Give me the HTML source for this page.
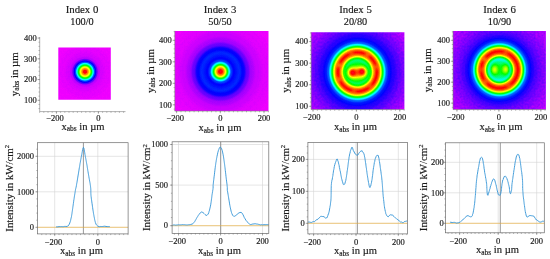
<!DOCTYPE html>
<html><head><meta charset="utf-8"><title>Beam profiles</title>
<style>html,body{margin:0;padding:0;background:#fff}svg{display:block}text{font-family:"Liberation Serif", "DejaVu Serif", serif;fill:#1a1a1a;stroke:#1a1a1a;stroke-width:0.16px}</style>
</head><body>
<svg width="550" height="259" viewBox="0 0 550 259">
<defs>
<filter id="cmA" x="0" y="0" width="100%" height="100%" color-interpolation-filters="sRGB" filterUnits="objectBoundingBox">
<feTurbulence type="fractalNoise" baseFrequency="0.5" numOctaves="2" seed="7" result="n0"/>
<feColorMatrix in="n0" type="matrix" values="1 0 0 0 0 1 0 0 0 0 1 0 0 0 0 0 0 0 0 1" result="n"/>
<feComponentTransfer in="SourceGraphic" result="w"><feFuncR type="table" tableValues="1.000 0.821 0.643 0.464 0.286 0.107 0.000 0.000 0.000 0.000 0.000 0.000 0.000 0.000 0.000 0.000 0.000 0.000 0.000 0.000 0.000 0.000 0.000 0.000 0.000 0.000 0.000 0.000 0.000 0.000 0.000 0.000 0.000 0.000 0.000 0.000 0.000 0.000 0.000 0.000 0.000"/><feFuncG type="table" tableValues="1.000 0.821 0.643 0.464 0.286 0.107 0.000 0.000 0.000 0.000 0.000 0.000 0.000 0.000 0.000 0.000 0.000 0.000 0.000 0.000 0.000 0.000 0.000 0.000 0.000 0.000 0.000 0.000 0.000 0.000 0.000 0.000 0.000 0.000 0.000 0.000 0.000 0.000 0.000 0.000 0.000"/><feFuncB type="table" tableValues="1.000 0.821 0.643 0.464 0.286 0.107 0.000 0.000 0.000 0.000 0.000 0.000 0.000 0.000 0.000 0.000 0.000 0.000 0.000 0.000 0.000 0.000 0.000 0.000 0.000 0.000 0.000 0.000 0.000 0.000 0.000 0.000 0.000 0.000 0.000 0.000 0.000 0.000 0.000 0.000 0.000"/></feComponentTransfer>
<feComposite in="w" in2="n" operator="arithmetic" k1="0.02" k2="0" k3="0" k4="0" result="a"/>
<feComposite in="SourceGraphic" in2="a" operator="arithmetic" k1="0" k2="1" k3="1" k4="0" result="v"/>
<feComponentTransfer in="v">
<feFuncR type="table" tableValues="1.000 1.000 1.000 1.000 1.000 1.000 1.000 1.000 1.000 1.000 1.000 1.000 0.994 0.973 0.952 0.930 0.909 0.888 0.866 0.845 0.824 0.802 0.781 0.760 0.738 0.717 0.696 0.675 0.653 0.632 0.611 0.589 0.568 0.547 0.525 0.504 0.483 0.461 0.440 0.419 0.397 0.376 0.355 0.334 0.312 0.291 0.270 0.248 0.227 0.206 0.184 0.163 0.142 0.120 0.099 0.078 0.056 0.035 0.014 0.000 0.000 0.000 0.000 0.000 0.000 0.000 0.000 0.000 0.000 0.000 0.000 0.000 0.000 0.000 0.000 0.000 0.000 0.000 0.000 0.000 0.000 0.000 0.000 0.000 0.000 0.000 0.000 0.000 0.000 0.000 0.000 0.000 0.000 0.000 0.000 0.000 0.000 0.000 0.000 0.000 0.000 0.000 0.000 0.000 0.000 0.000 0.000 0.000 0.000 0.000 0.000 0.000 0.000 0.000 0.000 0.000 0.000 0.000 0.000 0.000 0.000 0.000 0.000 0.000 0.000 0.000 0.000 0.000 0.000 0.000 0.000 0.000 0.000 0.000 0.000 0.000 0.000 0.000 0.000 0.000 0.000 0.000 0.000 0.000 0.000 0.000 0.000 0.000 0.000 0.000 0.000 0.000 0.000 0.000 0.021 0.042 0.064 0.085 0.106 0.127 0.148 0.170 0.191 0.212 0.233 0.254 0.276 0.297 0.318 0.339 0.360 0.382 0.403 0.424 0.445 0.466 0.488 0.509 0.530 0.551 0.572 0.594 0.615 0.636 0.657 0.678 0.700 0.721 0.742 0.763 0.784 0.806 0.827 0.848 0.869 0.890 0.911 0.933 0.954 0.975 0.996 1.000 1.000 1.000 1.000 1.000 1.000 1.000 1.000 1.000 1.000 1.000 1.000 1.000 1.000 1.000 1.000 1.000 1.000 1.000 1.000 1.000 1.000 1.000 1.000 1.000 1.000 1.000 1.000 1.000 1.000 1.000 1.000 1.000 1.000 1.000 1.000 1.000 1.000 1.000 1.000 1.000 1.000 1.000 1.000 1.000 1.000 1.000 1.000 1.000 1.000 1.000 1.000 1.000 1.000 1.000"/>
<feFuncG type="table" tableValues="0.000 0.000 0.000 0.000 0.000 0.000 0.000 0.000 0.000 0.000 0.000 0.000 0.000 0.000 0.000 0.000 0.000 0.000 0.000 0.000 0.000 0.000 0.000 0.000 0.000 0.000 0.000 0.000 0.000 0.000 0.000 0.000 0.000 0.000 0.000 0.000 0.000 0.000 0.000 0.000 0.000 0.000 0.000 0.000 0.000 0.000 0.000 0.000 0.000 0.000 0.000 0.000 0.000 0.000 0.000 0.000 0.000 0.000 0.000 0.007 0.029 0.050 0.071 0.093 0.114 0.135 0.157 0.178 0.199 0.221 0.242 0.263 0.285 0.306 0.327 0.348 0.370 0.391 0.412 0.434 0.455 0.476 0.498 0.519 0.540 0.562 0.583 0.604 0.626 0.647 0.668 0.689 0.711 0.732 0.753 0.775 0.796 0.817 0.839 0.860 0.881 0.903 0.924 0.945 0.967 0.988 1.000 1.000 1.000 1.000 1.000 1.000 1.000 1.000 1.000 1.000 1.000 1.000 1.000 1.000 1.000 1.000 1.000 1.000 1.000 1.000 1.000 1.000 1.000 1.000 1.000 1.000 1.000 1.000 1.000 1.000 1.000 1.000 1.000 1.000 1.000 1.000 1.000 1.000 1.000 1.000 1.000 1.000 1.000 1.000 1.000 1.000 1.000 1.000 1.000 1.000 1.000 1.000 1.000 1.000 1.000 1.000 1.000 1.000 1.000 1.000 1.000 1.000 1.000 1.000 1.000 1.000 1.000 1.000 1.000 1.000 1.000 1.000 1.000 1.000 1.000 1.000 1.000 1.000 1.000 1.000 1.000 1.000 1.000 1.000 1.000 1.000 1.000 1.000 1.000 1.000 1.000 1.000 1.000 1.000 1.000 0.983 0.961 0.940 0.919 0.898 0.877 0.855 0.834 0.813 0.792 0.771 0.749 0.728 0.707 0.686 0.665 0.643 0.622 0.601 0.580 0.559 0.537 0.516 0.495 0.474 0.453 0.431 0.410 0.389 0.368 0.347 0.325 0.304 0.283 0.262 0.241 0.219 0.198 0.177 0.156 0.135 0.113 0.092 0.071 0.050 0.029 0.007 0.000 0.000 0.000 0.000 0.000 0.000 0.000 0.000"/>
<feFuncB type="table" tableValues="0.750 0.771 0.793 0.814 0.835 0.857 0.878 0.899 0.921 0.942 0.963 0.984 1.000 1.000 1.000 1.000 1.000 1.000 1.000 1.000 1.000 1.000 1.000 1.000 1.000 1.000 1.000 1.000 1.000 1.000 1.000 1.000 1.000 1.000 1.000 1.000 1.000 1.000 1.000 1.000 1.000 1.000 1.000 1.000 1.000 1.000 1.000 1.000 1.000 1.000 1.000 1.000 1.000 1.000 1.000 1.000 1.000 1.000 1.000 1.000 1.000 1.000 1.000 1.000 1.000 1.000 1.000 1.000 1.000 1.000 1.000 1.000 1.000 1.000 1.000 1.000 1.000 1.000 1.000 1.000 1.000 1.000 1.000 1.000 1.000 1.000 1.000 1.000 1.000 1.000 1.000 1.000 1.000 1.000 1.000 1.000 1.000 1.000 1.000 1.000 1.000 1.000 1.000 1.000 1.000 1.000 0.991 0.970 0.949 0.928 0.907 0.886 0.864 0.843 0.822 0.801 0.780 0.759 0.738 0.717 0.696 0.675 0.654 0.633 0.611 0.590 0.569 0.548 0.527 0.506 0.485 0.464 0.443 0.422 0.401 0.380 0.358 0.337 0.316 0.295 0.274 0.253 0.232 0.211 0.190 0.169 0.148 0.127 0.105 0.084 0.063 0.042 0.021 0.000 0.000 0.000 0.000 0.000 0.000 0.000 0.000 0.000 0.000 0.000 0.000 0.000 0.000 0.000 0.000 0.000 0.000 0.000 0.000 0.000 0.000 0.000 0.000 0.000 0.000 0.000 0.000 0.000 0.000 0.000 0.000 0.000 0.000 0.000 0.000 0.000 0.000 0.000 0.000 0.000 0.000 0.000 0.000 0.000 0.000 0.000 0.000 0.000 0.000 0.000 0.000 0.000 0.000 0.000 0.000 0.000 0.000 0.000 0.000 0.000 0.000 0.000 0.000 0.000 0.000 0.000 0.000 0.000 0.000 0.000 0.000 0.000 0.000 0.000 0.000 0.000 0.000 0.000 0.000 0.000 0.000 0.000 0.000 0.000 0.000 0.000 0.000 0.000 0.000 0.000 0.000 0.000 0.000 0.000 0.014 0.035 0.055 0.076 0.097 0.118 0.139 0.160"/>
</feComponentTransfer></filter>
<filter id="cmB" x="0" y="0" width="100%" height="100%" color-interpolation-filters="sRGB" filterUnits="objectBoundingBox">
<feTurbulence type="fractalNoise" baseFrequency="0.5" numOctaves="2" seed="11" result="n0"/>
<feColorMatrix in="n0" type="matrix" values="1 0 0 0 0 1 0 0 0 0 1 0 0 0 0 0 0 0 0 1" result="n"/>
<feComponentTransfer in="SourceGraphic" result="w"><feFuncR type="table" tableValues="1.000 0.896 0.792 0.688 0.583 0.479 0.375 0.271 0.167 0.062 0.000 0.000 0.000 0.000 0.000 0.000 0.000 0.000 0.000 0.000 0.000 0.000 0.000 0.000 0.000 0.000 0.000 0.000 0.000 0.000 0.000 0.000 0.000 0.000 0.000 0.000 0.000 0.000 0.000 0.000 0.000"/><feFuncG type="table" tableValues="1.000 0.896 0.792 0.688 0.583 0.479 0.375 0.271 0.167 0.062 0.000 0.000 0.000 0.000 0.000 0.000 0.000 0.000 0.000 0.000 0.000 0.000 0.000 0.000 0.000 0.000 0.000 0.000 0.000 0.000 0.000 0.000 0.000 0.000 0.000 0.000 0.000 0.000 0.000 0.000 0.000"/><feFuncB type="table" tableValues="1.000 0.896 0.792 0.688 0.583 0.479 0.375 0.271 0.167 0.062 0.000 0.000 0.000 0.000 0.000 0.000 0.000 0.000 0.000 0.000 0.000 0.000 0.000 0.000 0.000 0.000 0.000 0.000 0.000 0.000 0.000 0.000 0.000 0.000 0.000 0.000 0.000 0.000 0.000 0.000 0.000"/></feComponentTransfer>
<feComposite in="w" in2="n" operator="arithmetic" k1="0.1" k2="0" k3="0" k4="0" result="a"/>
<feComposite in="SourceGraphic" in2="a" operator="arithmetic" k1="0" k2="1" k3="1" k4="0" result="v"/>
<feComponentTransfer in="v">
<feFuncR type="table" tableValues="1.000 1.000 1.000 1.000 1.000 1.000 1.000 1.000 1.000 1.000 1.000 1.000 0.994 0.973 0.952 0.930 0.909 0.888 0.866 0.845 0.824 0.802 0.781 0.760 0.738 0.717 0.696 0.675 0.653 0.632 0.611 0.589 0.568 0.547 0.525 0.504 0.483 0.461 0.440 0.419 0.397 0.376 0.355 0.334 0.312 0.291 0.270 0.248 0.227 0.206 0.184 0.163 0.142 0.120 0.099 0.078 0.056 0.035 0.014 0.000 0.000 0.000 0.000 0.000 0.000 0.000 0.000 0.000 0.000 0.000 0.000 0.000 0.000 0.000 0.000 0.000 0.000 0.000 0.000 0.000 0.000 0.000 0.000 0.000 0.000 0.000 0.000 0.000 0.000 0.000 0.000 0.000 0.000 0.000 0.000 0.000 0.000 0.000 0.000 0.000 0.000 0.000 0.000 0.000 0.000 0.000 0.000 0.000 0.000 0.000 0.000 0.000 0.000 0.000 0.000 0.000 0.000 0.000 0.000 0.000 0.000 0.000 0.000 0.000 0.000 0.000 0.000 0.000 0.000 0.000 0.000 0.000 0.000 0.000 0.000 0.000 0.000 0.000 0.000 0.000 0.000 0.000 0.000 0.000 0.000 0.000 0.000 0.000 0.000 0.000 0.000 0.000 0.000 0.000 0.021 0.042 0.064 0.085 0.106 0.127 0.148 0.170 0.191 0.212 0.233 0.254 0.276 0.297 0.318 0.339 0.360 0.382 0.403 0.424 0.445 0.466 0.488 0.509 0.530 0.551 0.572 0.594 0.615 0.636 0.657 0.678 0.700 0.721 0.742 0.763 0.784 0.806 0.827 0.848 0.869 0.890 0.911 0.933 0.954 0.975 0.996 1.000 1.000 1.000 1.000 1.000 1.000 1.000 1.000 1.000 1.000 1.000 1.000 1.000 1.000 1.000 1.000 1.000 1.000 1.000 1.000 1.000 1.000 1.000 1.000 1.000 1.000 1.000 1.000 1.000 1.000 1.000 1.000 1.000 1.000 1.000 1.000 1.000 1.000 1.000 1.000 1.000 1.000 1.000 1.000 1.000 1.000 1.000 1.000 1.000 1.000 1.000 1.000 1.000 1.000 1.000"/>
<feFuncG type="table" tableValues="0.000 0.000 0.000 0.000 0.000 0.000 0.000 0.000 0.000 0.000 0.000 0.000 0.000 0.000 0.000 0.000 0.000 0.000 0.000 0.000 0.000 0.000 0.000 0.000 0.000 0.000 0.000 0.000 0.000 0.000 0.000 0.000 0.000 0.000 0.000 0.000 0.000 0.000 0.000 0.000 0.000 0.000 0.000 0.000 0.000 0.000 0.000 0.000 0.000 0.000 0.000 0.000 0.000 0.000 0.000 0.000 0.000 0.000 0.000 0.007 0.029 0.050 0.071 0.093 0.114 0.135 0.157 0.178 0.199 0.221 0.242 0.263 0.285 0.306 0.327 0.348 0.370 0.391 0.412 0.434 0.455 0.476 0.498 0.519 0.540 0.562 0.583 0.604 0.626 0.647 0.668 0.689 0.711 0.732 0.753 0.775 0.796 0.817 0.839 0.860 0.881 0.903 0.924 0.945 0.967 0.988 1.000 1.000 1.000 1.000 1.000 1.000 1.000 1.000 1.000 1.000 1.000 1.000 1.000 1.000 1.000 1.000 1.000 1.000 1.000 1.000 1.000 1.000 1.000 1.000 1.000 1.000 1.000 1.000 1.000 1.000 1.000 1.000 1.000 1.000 1.000 1.000 1.000 1.000 1.000 1.000 1.000 1.000 1.000 1.000 1.000 1.000 1.000 1.000 1.000 1.000 1.000 1.000 1.000 1.000 1.000 1.000 1.000 1.000 1.000 1.000 1.000 1.000 1.000 1.000 1.000 1.000 1.000 1.000 1.000 1.000 1.000 1.000 1.000 1.000 1.000 1.000 1.000 1.000 1.000 1.000 1.000 1.000 1.000 1.000 1.000 1.000 1.000 1.000 1.000 1.000 1.000 1.000 1.000 1.000 1.000 0.983 0.961 0.940 0.919 0.898 0.877 0.855 0.834 0.813 0.792 0.771 0.749 0.728 0.707 0.686 0.665 0.643 0.622 0.601 0.580 0.559 0.537 0.516 0.495 0.474 0.453 0.431 0.410 0.389 0.368 0.347 0.325 0.304 0.283 0.262 0.241 0.219 0.198 0.177 0.156 0.135 0.113 0.092 0.071 0.050 0.029 0.007 0.000 0.000 0.000 0.000 0.000 0.000 0.000 0.000"/>
<feFuncB type="table" tableValues="0.750 0.771 0.793 0.814 0.835 0.857 0.878 0.899 0.921 0.942 0.963 0.984 1.000 1.000 1.000 1.000 1.000 1.000 1.000 1.000 1.000 1.000 1.000 1.000 1.000 1.000 1.000 1.000 1.000 1.000 1.000 1.000 1.000 1.000 1.000 1.000 1.000 1.000 1.000 1.000 1.000 1.000 1.000 1.000 1.000 1.000 1.000 1.000 1.000 1.000 1.000 1.000 1.000 1.000 1.000 1.000 1.000 1.000 1.000 1.000 1.000 1.000 1.000 1.000 1.000 1.000 1.000 1.000 1.000 1.000 1.000 1.000 1.000 1.000 1.000 1.000 1.000 1.000 1.000 1.000 1.000 1.000 1.000 1.000 1.000 1.000 1.000 1.000 1.000 1.000 1.000 1.000 1.000 1.000 1.000 1.000 1.000 1.000 1.000 1.000 1.000 1.000 1.000 1.000 1.000 1.000 0.991 0.970 0.949 0.928 0.907 0.886 0.864 0.843 0.822 0.801 0.780 0.759 0.738 0.717 0.696 0.675 0.654 0.633 0.611 0.590 0.569 0.548 0.527 0.506 0.485 0.464 0.443 0.422 0.401 0.380 0.358 0.337 0.316 0.295 0.274 0.253 0.232 0.211 0.190 0.169 0.148 0.127 0.105 0.084 0.063 0.042 0.021 0.000 0.000 0.000 0.000 0.000 0.000 0.000 0.000 0.000 0.000 0.000 0.000 0.000 0.000 0.000 0.000 0.000 0.000 0.000 0.000 0.000 0.000 0.000 0.000 0.000 0.000 0.000 0.000 0.000 0.000 0.000 0.000 0.000 0.000 0.000 0.000 0.000 0.000 0.000 0.000 0.000 0.000 0.000 0.000 0.000 0.000 0.000 0.000 0.000 0.000 0.000 0.000 0.000 0.000 0.000 0.000 0.000 0.000 0.000 0.000 0.000 0.000 0.000 0.000 0.000 0.000 0.000 0.000 0.000 0.000 0.000 0.000 0.000 0.000 0.000 0.000 0.000 0.000 0.000 0.000 0.000 0.000 0.000 0.000 0.000 0.000 0.000 0.000 0.000 0.000 0.000 0.000 0.000 0.000 0.000 0.014 0.035 0.055 0.076 0.097 0.118 0.139 0.160"/>
</feComponentTransfer></filter>
<radialGradient id="g1" gradientUnits="userSpaceOnUse" cx="0" cy="0" r="40" gradientTransform="translate(85.0 71.7) scale(1.0 1.0)"><stop offset="0.0000" stop-color="#ffffff"/><stop offset="0.0083" stop-color="#fefefe"/><stop offset="0.0167" stop-color="#fbfbfb"/><stop offset="0.0250" stop-color="#f8f8f8"/><stop offset="0.0333" stop-color="#f6f6f6"/><stop offset="0.0417" stop-color="#f5f5f5"/><stop offset="0.0500" stop-color="#ededed"/><stop offset="0.0583" stop-color="#e4e4e4"/><stop offset="0.0667" stop-color="#e2e2e2"/><stop offset="0.0750" stop-color="#dfdfdf"/><stop offset="0.0833" stop-color="#dadada"/><stop offset="0.0917" stop-color="#d4d4d4"/><stop offset="0.1000" stop-color="#cdcdcd"/><stop offset="0.1083" stop-color="#c9c9c9"/><stop offset="0.1167" stop-color="#c8c8c8"/><stop offset="0.1250" stop-color="#c3c3c3"/><stop offset="0.1333" stop-color="#b7b7b7"/><stop offset="0.1417" stop-color="#aaaaaa"/><stop offset="0.1500" stop-color="#9f9f9f"/><stop offset="0.1583" stop-color="#999999"/><stop offset="0.1667" stop-color="#969696"/><stop offset="0.1750" stop-color="#8d8d8d"/><stop offset="0.1833" stop-color="#808080"/><stop offset="0.1917" stop-color="#737373"/><stop offset="0.2000" stop-color="#6b6b6b"/><stop offset="0.2083" stop-color="#696969"/><stop offset="0.2167" stop-color="#606060"/><stop offset="0.2250" stop-color="#525252"/><stop offset="0.2333" stop-color="#494949"/><stop offset="0.2417" stop-color="#474747"/><stop offset="0.2500" stop-color="#424242"/><stop offset="0.2583" stop-color="#3c3c3c"/><stop offset="0.2667" stop-color="#393939"/><stop offset="0.2750" stop-color="#373737"/><stop offset="0.2833" stop-color="#303030"/><stop offset="0.2917" stop-color="#2a2a2a"/><stop offset="0.3000" stop-color="#292929"/><stop offset="0.3083" stop-color="#262626"/><stop offset="0.3167" stop-color="#202020"/><stop offset="0.3250" stop-color="#1b1b1b"/><stop offset="0.3333" stop-color="#171717"/><stop offset="0.3417" stop-color="#171717"/><stop offset="0.3500" stop-color="#161616"/><stop offset="0.3583" stop-color="#161616"/><stop offset="0.3667" stop-color="#151515"/><stop offset="0.3750" stop-color="#141414"/><stop offset="0.3833" stop-color="#131313"/><stop offset="0.3917" stop-color="#121212"/><stop offset="0.4000" stop-color="#121212"/><stop offset="0.4083" stop-color="#121212"/><stop offset="0.4167" stop-color="#121212"/><stop offset="0.4250" stop-color="#121212"/><stop offset="0.4333" stop-color="#121212"/><stop offset="0.4417" stop-color="#111111"/><stop offset="0.4500" stop-color="#111111"/><stop offset="0.4583" stop-color="#111111"/><stop offset="0.4667" stop-color="#111111"/><stop offset="0.4750" stop-color="#111111"/><stop offset="0.4833" stop-color="#101010"/><stop offset="0.4917" stop-color="#101010"/><stop offset="0.5000" stop-color="#101010"/><stop offset="0.5083" stop-color="#101010"/><stop offset="0.5167" stop-color="#101010"/><stop offset="0.5250" stop-color="#0f0f0f"/><stop offset="0.5333" stop-color="#0f0f0f"/><stop offset="0.5417" stop-color="#0f0f0f"/><stop offset="0.5500" stop-color="#0f0f0f"/><stop offset="0.5583" stop-color="#0f0f0f"/><stop offset="0.5667" stop-color="#0f0f0f"/><stop offset="0.5750" stop-color="#0f0f0f"/><stop offset="0.5833" stop-color="#0f0f0f"/><stop offset="0.5917" stop-color="#0f0f0f"/><stop offset="0.6000" stop-color="#0f0f0f"/><stop offset="0.6083" stop-color="#0f0f0f"/><stop offset="0.6167" stop-color="#0f0f0f"/><stop offset="0.6250" stop-color="#0f0f0f"/><stop offset="0.6333" stop-color="#0e0e0e"/><stop offset="0.6417" stop-color="#0e0e0e"/><stop offset="0.6500" stop-color="#0e0e0e"/><stop offset="0.6583" stop-color="#0e0e0e"/><stop offset="0.6667" stop-color="#0e0e0e"/><stop offset="0.6750" stop-color="#0e0e0e"/><stop offset="0.6833" stop-color="#0d0d0d"/><stop offset="0.6917" stop-color="#0d0d0d"/><stop offset="0.7000" stop-color="#0d0d0d"/><stop offset="0.7083" stop-color="#0d0d0d"/><stop offset="0.7167" stop-color="#0d0d0d"/><stop offset="0.7250" stop-color="#0d0d0d"/><stop offset="0.7333" stop-color="#0d0d0d"/><stop offset="0.7417" stop-color="#0d0d0d"/><stop offset="0.7500" stop-color="#0d0d0d"/><stop offset="0.7583" stop-color="#0d0d0d"/><stop offset="0.7667" stop-color="#0d0d0d"/><stop offset="0.7750" stop-color="#0d0d0d"/><stop offset="0.7833" stop-color="#0d0d0d"/><stop offset="0.7917" stop-color="#0d0d0d"/><stop offset="0.8000" stop-color="#0d0d0d"/><stop offset="0.8083" stop-color="#0d0d0d"/><stop offset="0.8167" stop-color="#0d0d0d"/><stop offset="0.8250" stop-color="#0d0d0d"/><stop offset="0.8333" stop-color="#0d0d0d"/><stop offset="0.8417" stop-color="#0d0d0d"/><stop offset="0.8500" stop-color="#0d0d0d"/><stop offset="0.8583" stop-color="#0d0d0d"/><stop offset="0.8667" stop-color="#0d0d0d"/><stop offset="0.8750" stop-color="#0d0d0d"/><stop offset="0.8833" stop-color="#0d0d0d"/><stop offset="0.8917" stop-color="#0d0d0d"/><stop offset="0.9000" stop-color="#0d0d0d"/><stop offset="0.9083" stop-color="#0d0d0d"/><stop offset="0.9167" stop-color="#0d0d0d"/><stop offset="0.9250" stop-color="#0d0d0d"/><stop offset="0.9333" stop-color="#0d0d0d"/><stop offset="0.9417" stop-color="#0c0c0c"/><stop offset="0.9500" stop-color="#0c0c0c"/><stop offset="0.9583" stop-color="#0c0c0c"/><stop offset="0.9667" stop-color="#0c0c0c"/><stop offset="0.9750" stop-color="#0c0c0c"/><stop offset="0.9833" stop-color="#0c0c0c"/><stop offset="0.9917" stop-color="#0c0c0c"/><stop offset="1.0000" stop-color="#0c0c0c"/></radialGradient>
<clipPath id="c1"><rect x="58.3" y="47.4" width="52.50" height="52.30"/></clipPath>
<radialGradient id="g2" gradientUnits="userSpaceOnUse" cx="0" cy="0" r="70" gradientTransform="translate(220.5 71.6) scale(1.0 1.0)"><stop offset="0.0000" stop-color="#ffffff"/><stop offset="0.0071" stop-color="#fdfdfd"/><stop offset="0.0143" stop-color="#f9f9f9"/><stop offset="0.0214" stop-color="#f5f5f5"/><stop offset="0.0286" stop-color="#f4f4f4"/><stop offset="0.0357" stop-color="#ebebeb"/><stop offset="0.0429" stop-color="#e3e3e3"/><stop offset="0.0500" stop-color="#e0e0e0"/><stop offset="0.0571" stop-color="#d7d7d7"/><stop offset="0.0643" stop-color="#cdcdcd"/><stop offset="0.0714" stop-color="#c8c8c8"/><stop offset="0.0786" stop-color="#c1c1c1"/><stop offset="0.0857" stop-color="#afafaf"/><stop offset="0.0929" stop-color="#9e9e9e"/><stop offset="0.1000" stop-color="#999999"/><stop offset="0.1071" stop-color="#8e8e8e"/><stop offset="0.1143" stop-color="#7b7b7b"/><stop offset="0.1214" stop-color="#6c6c6c"/><stop offset="0.1286" stop-color="#696969"/><stop offset="0.1357" stop-color="#5f5f5f"/><stop offset="0.1429" stop-color="#515151"/><stop offset="0.1500" stop-color="#474747"/><stop offset="0.1571" stop-color="#464646"/><stop offset="0.1643" stop-color="#444444"/><stop offset="0.1714" stop-color="#404040"/><stop offset="0.1786" stop-color="#3d3d3d"/><stop offset="0.1857" stop-color="#3b3b3b"/><stop offset="0.1929" stop-color="#3b3b3b"/><stop offset="0.2000" stop-color="#3b3b3b"/><stop offset="0.2071" stop-color="#3c3c3c"/><stop offset="0.2143" stop-color="#3d3d3d"/><stop offset="0.2214" stop-color="#3e3e3e"/><stop offset="0.2286" stop-color="#3e3e3e"/><stop offset="0.2357" stop-color="#3f3f3f"/><stop offset="0.2429" stop-color="#404040"/><stop offset="0.2500" stop-color="#414141"/><stop offset="0.2571" stop-color="#414141"/><stop offset="0.2643" stop-color="#424242"/><stop offset="0.2714" stop-color="#424242"/><stop offset="0.2786" stop-color="#414141"/><stop offset="0.2857" stop-color="#404040"/><stop offset="0.2929" stop-color="#3f3f3f"/><stop offset="0.3000" stop-color="#3d3d3d"/><stop offset="0.3071" stop-color="#3c3c3c"/><stop offset="0.3143" stop-color="#3a3a3a"/><stop offset="0.3214" stop-color="#3a3a3a"/><stop offset="0.3286" stop-color="#393939"/><stop offset="0.3357" stop-color="#393939"/><stop offset="0.3429" stop-color="#373737"/><stop offset="0.3500" stop-color="#343434"/><stop offset="0.3571" stop-color="#303030"/><stop offset="0.3643" stop-color="#2d2d2d"/><stop offset="0.3714" stop-color="#2a2a2a"/><stop offset="0.3786" stop-color="#282828"/><stop offset="0.3857" stop-color="#282828"/><stop offset="0.3929" stop-color="#272727"/><stop offset="0.4000" stop-color="#262626"/><stop offset="0.4071" stop-color="#242424"/><stop offset="0.4143" stop-color="#212121"/><stop offset="0.4214" stop-color="#1f1f1f"/><stop offset="0.4286" stop-color="#1d1d1d"/><stop offset="0.4357" stop-color="#1b1b1b"/><stop offset="0.4429" stop-color="#1b1b1b"/><stop offset="0.4500" stop-color="#1b1b1b"/><stop offset="0.4571" stop-color="#1a1a1a"/><stop offset="0.4643" stop-color="#191919"/><stop offset="0.4714" stop-color="#191919"/><stop offset="0.4786" stop-color="#181818"/><stop offset="0.4857" stop-color="#171717"/><stop offset="0.4929" stop-color="#161616"/><stop offset="0.5000" stop-color="#151515"/><stop offset="0.5071" stop-color="#151515"/><stop offset="0.5143" stop-color="#141414"/><stop offset="0.5214" stop-color="#141414"/><stop offset="0.5286" stop-color="#141414"/><stop offset="0.5357" stop-color="#141414"/><stop offset="0.5429" stop-color="#141414"/><stop offset="0.5500" stop-color="#141414"/><stop offset="0.5571" stop-color="#131313"/><stop offset="0.5643" stop-color="#131313"/><stop offset="0.5714" stop-color="#131313"/><stop offset="0.5786" stop-color="#121212"/><stop offset="0.5857" stop-color="#121212"/><stop offset="0.5929" stop-color="#111111"/><stop offset="0.6000" stop-color="#111111"/><stop offset="0.6071" stop-color="#111111"/><stop offset="0.6143" stop-color="#101010"/><stop offset="0.6214" stop-color="#101010"/><stop offset="0.6286" stop-color="#101010"/><stop offset="0.6357" stop-color="#101010"/><stop offset="0.6429" stop-color="#101010"/><stop offset="0.6500" stop-color="#101010"/><stop offset="0.6571" stop-color="#101010"/><stop offset="0.6643" stop-color="#101010"/><stop offset="0.6714" stop-color="#101010"/><stop offset="0.6786" stop-color="#101010"/><stop offset="0.6857" stop-color="#101010"/><stop offset="0.6929" stop-color="#0f0f0f"/><stop offset="0.7000" stop-color="#0f0f0f"/><stop offset="0.7071" stop-color="#0f0f0f"/><stop offset="0.7143" stop-color="#0f0f0f"/><stop offset="0.7214" stop-color="#0f0f0f"/><stop offset="0.7286" stop-color="#0f0f0f"/><stop offset="0.7357" stop-color="#0f0f0f"/><stop offset="0.7429" stop-color="#0e0e0e"/><stop offset="0.7500" stop-color="#0e0e0e"/><stop offset="0.7571" stop-color="#0e0e0e"/><stop offset="0.7643" stop-color="#0e0e0e"/><stop offset="0.7714" stop-color="#0e0e0e"/><stop offset="0.7786" stop-color="#0e0e0e"/><stop offset="0.7857" stop-color="#0e0e0e"/><stop offset="0.7929" stop-color="#0d0d0d"/><stop offset="0.8000" stop-color="#0d0d0d"/><stop offset="0.8071" stop-color="#0d0d0d"/><stop offset="0.8143" stop-color="#0d0d0d"/><stop offset="0.8214" stop-color="#0d0d0d"/><stop offset="0.8286" stop-color="#0d0d0d"/><stop offset="0.8357" stop-color="#0d0d0d"/><stop offset="0.8429" stop-color="#0d0d0d"/><stop offset="0.8500" stop-color="#0d0d0d"/><stop offset="0.8571" stop-color="#0d0d0d"/><stop offset="0.8643" stop-color="#0d0d0d"/><stop offset="0.8714" stop-color="#0d0d0d"/><stop offset="0.8786" stop-color="#0d0d0d"/><stop offset="0.8857" stop-color="#0d0d0d"/><stop offset="0.8929" stop-color="#0d0d0d"/><stop offset="0.9000" stop-color="#0d0d0d"/><stop offset="0.9071" stop-color="#0c0c0c"/><stop offset="0.9143" stop-color="#0c0c0c"/><stop offset="0.9214" stop-color="#0c0c0c"/><stop offset="0.9286" stop-color="#0c0c0c"/><stop offset="0.9357" stop-color="#0c0c0c"/><stop offset="0.9429" stop-color="#0c0c0c"/><stop offset="0.9500" stop-color="#0c0c0c"/><stop offset="0.9571" stop-color="#0c0c0c"/><stop offset="0.9643" stop-color="#0c0c0c"/><stop offset="0.9714" stop-color="#0c0c0c"/><stop offset="0.9786" stop-color="#0c0c0c"/><stop offset="0.9857" stop-color="#0c0c0c"/><stop offset="0.9929" stop-color="#0c0c0c"/><stop offset="1.0000" stop-color="#0c0c0c"/></radialGradient>
<clipPath id="c2"><rect x="174.8" y="30.9" width="93.70" height="80.20"/></clipPath>
<radialGradient id="g3" gradientUnits="userSpaceOnUse" cx="0" cy="0" r="75" gradientTransform="translate(357.4 71.9) scale(1.0 1.0)"><stop offset="0.0000" stop-color="#878787"/><stop offset="0.0067" stop-color="#878787"/><stop offset="0.0133" stop-color="#878787"/><stop offset="0.0200" stop-color="#878787"/><stop offset="0.0267" stop-color="#878787"/><stop offset="0.0333" stop-color="#878787"/><stop offset="0.0400" stop-color="#878787"/><stop offset="0.0467" stop-color="#878787"/><stop offset="0.0533" stop-color="#878787"/><stop offset="0.0600" stop-color="#878787"/><stop offset="0.0667" stop-color="#878787"/><stop offset="0.0733" stop-color="#878787"/><stop offset="0.0800" stop-color="#878787"/><stop offset="0.0867" stop-color="#878787"/><stop offset="0.0933" stop-color="#878787"/><stop offset="0.1000" stop-color="#878787"/><stop offset="0.1067" stop-color="#878787"/><stop offset="0.1133" stop-color="#878787"/><stop offset="0.1200" stop-color="#868686"/><stop offset="0.1267" stop-color="#848484"/><stop offset="0.1333" stop-color="#828282"/><stop offset="0.1400" stop-color="#818181"/><stop offset="0.1467" stop-color="#808080"/><stop offset="0.1533" stop-color="#808080"/><stop offset="0.1600" stop-color="#838383"/><stop offset="0.1667" stop-color="#8b8b8b"/><stop offset="0.1733" stop-color="#949494"/><stop offset="0.1800" stop-color="#999999"/><stop offset="0.1867" stop-color="#9f9f9f"/><stop offset="0.1933" stop-color="#b3b3b3"/><stop offset="0.2000" stop-color="#c5c5c5"/><stop offset="0.2067" stop-color="#c9c9c9"/><stop offset="0.2133" stop-color="#d1d1d1"/><stop offset="0.2200" stop-color="#dcdcdc"/><stop offset="0.2267" stop-color="#dfdfdf"/><stop offset="0.2333" stop-color="#e8e8e8"/><stop offset="0.2400" stop-color="#ededed"/><stop offset="0.2467" stop-color="#f1f1f1"/><stop offset="0.2533" stop-color="#f6f6f6"/><stop offset="0.2600" stop-color="#f9f9f9"/><stop offset="0.2667" stop-color="#f6f6f6"/><stop offset="0.2733" stop-color="#f0f0f0"/><stop offset="0.2800" stop-color="#ededed"/><stop offset="0.2867" stop-color="#e6e6e6"/><stop offset="0.2933" stop-color="#dfdfdf"/><stop offset="0.3000" stop-color="#d8d8d8"/><stop offset="0.3067" stop-color="#cbcbcb"/><stop offset="0.3133" stop-color="#c7c7c7"/><stop offset="0.3200" stop-color="#bababa"/><stop offset="0.3267" stop-color="#a7a7a7"/><stop offset="0.3333" stop-color="#9a9a9a"/><stop offset="0.3400" stop-color="#969696"/><stop offset="0.3467" stop-color="#898989"/><stop offset="0.3533" stop-color="#777777"/><stop offset="0.3600" stop-color="#6b6b6b"/><stop offset="0.3667" stop-color="#686868"/><stop offset="0.3733" stop-color="#5e5e5e"/><stop offset="0.3800" stop-color="#525252"/><stop offset="0.3867" stop-color="#4c4c4c"/><stop offset="0.3933" stop-color="#4b4b4b"/><stop offset="0.4000" stop-color="#484848"/><stop offset="0.4067" stop-color="#434343"/><stop offset="0.4133" stop-color="#404040"/><stop offset="0.4200" stop-color="#3e3e3e"/><stop offset="0.4267" stop-color="#3e3e3e"/><stop offset="0.4333" stop-color="#3d3d3d"/><stop offset="0.4400" stop-color="#3b3b3b"/><stop offset="0.4467" stop-color="#393939"/><stop offset="0.4533" stop-color="#373737"/><stop offset="0.4600" stop-color="#353535"/><stop offset="0.4667" stop-color="#333333"/><stop offset="0.4733" stop-color="#323232"/><stop offset="0.4800" stop-color="#323232"/><stop offset="0.4867" stop-color="#313131"/><stop offset="0.4933" stop-color="#313131"/><stop offset="0.5000" stop-color="#303030"/><stop offset="0.5067" stop-color="#2e2e2e"/><stop offset="0.5133" stop-color="#2d2d2d"/><stop offset="0.5200" stop-color="#2b2b2b"/><stop offset="0.5267" stop-color="#2a2a2a"/><stop offset="0.5333" stop-color="#282828"/><stop offset="0.5400" stop-color="#282828"/><stop offset="0.5467" stop-color="#282828"/><stop offset="0.5533" stop-color="#272727"/><stop offset="0.5600" stop-color="#272727"/><stop offset="0.5667" stop-color="#262626"/><stop offset="0.5733" stop-color="#242424"/><stop offset="0.5800" stop-color="#232323"/><stop offset="0.5867" stop-color="#222222"/><stop offset="0.5933" stop-color="#202020"/><stop offset="0.6000" stop-color="#1f1f1f"/><stop offset="0.6067" stop-color="#1f1f1f"/><stop offset="0.6133" stop-color="#1f1f1f"/><stop offset="0.6200" stop-color="#1e1e1e"/><stop offset="0.6267" stop-color="#1e1e1e"/><stop offset="0.6333" stop-color="#1d1d1d"/><stop offset="0.6400" stop-color="#1d1d1d"/><stop offset="0.6467" stop-color="#1c1c1c"/><stop offset="0.6533" stop-color="#1b1b1b"/><stop offset="0.6600" stop-color="#1a1a1a"/><stop offset="0.6667" stop-color="#191919"/><stop offset="0.6733" stop-color="#181818"/><stop offset="0.6800" stop-color="#171717"/><stop offset="0.6867" stop-color="#171717"/><stop offset="0.6933" stop-color="#171717"/><stop offset="0.7000" stop-color="#171717"/><stop offset="0.7067" stop-color="#171717"/><stop offset="0.7133" stop-color="#161616"/><stop offset="0.7200" stop-color="#161616"/><stop offset="0.7267" stop-color="#151515"/><stop offset="0.7333" stop-color="#141414"/><stop offset="0.7400" stop-color="#141414"/><stop offset="0.7467" stop-color="#131313"/><stop offset="0.7533" stop-color="#121212"/><stop offset="0.7600" stop-color="#111111"/><stop offset="0.7667" stop-color="#111111"/><stop offset="0.7733" stop-color="#101010"/><stop offset="0.7800" stop-color="#0f0f0f"/><stop offset="0.7867" stop-color="#0f0f0f"/><stop offset="0.7933" stop-color="#0f0f0f"/><stop offset="0.8000" stop-color="#0f0f0f"/><stop offset="0.8067" stop-color="#0f0f0f"/><stop offset="0.8133" stop-color="#0f0f0f"/><stop offset="0.8200" stop-color="#0f0f0f"/><stop offset="0.8267" stop-color="#0f0f0f"/><stop offset="0.8333" stop-color="#0f0f0f"/><stop offset="0.8400" stop-color="#0e0e0e"/><stop offset="0.8467" stop-color="#0e0e0e"/><stop offset="0.8533" stop-color="#0e0e0e"/><stop offset="0.8600" stop-color="#0e0e0e"/><stop offset="0.8667" stop-color="#0e0e0e"/><stop offset="0.8733" stop-color="#0e0e0e"/><stop offset="0.8800" stop-color="#0e0e0e"/><stop offset="0.8867" stop-color="#0d0d0d"/><stop offset="0.8933" stop-color="#0d0d0d"/><stop offset="0.9000" stop-color="#0d0d0d"/><stop offset="0.9067" stop-color="#0d0d0d"/><stop offset="0.9133" stop-color="#0d0d0d"/><stop offset="0.9200" stop-color="#0d0d0d"/><stop offset="0.9267" stop-color="#0c0c0c"/><stop offset="0.9333" stop-color="#0c0c0c"/><stop offset="0.9400" stop-color="#0c0c0c"/><stop offset="0.9467" stop-color="#0c0c0c"/><stop offset="0.9533" stop-color="#0c0c0c"/><stop offset="0.9600" stop-color="#0c0c0c"/><stop offset="0.9667" stop-color="#0c0c0c"/><stop offset="0.9733" stop-color="#0c0c0c"/><stop offset="0.9800" stop-color="#0c0c0c"/><stop offset="0.9867" stop-color="#0c0c0c"/><stop offset="0.9933" stop-color="#0b0b0b"/><stop offset="1.0000" stop-color="#0b0b0b"/></radialGradient>
<radialGradient id="b3a" gradientUnits="userSpaceOnUse" cx="0" cy="0" r="15" gradientTransform="translate(357.2 72.9) scale(1.25 1.0)"><stop offset="0.000" stop-color="#ebebeb" stop-opacity="0.800"/><stop offset="0.042" stop-color="#ebebeb" stop-opacity="0.794"/><stop offset="0.083" stop-color="#ebebeb" stop-opacity="0.774"/><stop offset="0.125" stop-color="#ebebeb" stop-opacity="0.744"/><stop offset="0.167" stop-color="#ebebeb" stop-opacity="0.702"/><stop offset="0.208" stop-color="#ebebeb" stop-opacity="0.653"/><stop offset="0.250" stop-color="#ebebeb" stop-opacity="0.597"/><stop offset="0.292" stop-color="#ebebeb" stop-opacity="0.537"/><stop offset="0.333" stop-color="#ebebeb" stop-opacity="0.475"/><stop offset="0.375" stop-color="#ebebeb" stop-opacity="0.414"/><stop offset="0.417" stop-color="#ebebeb" stop-opacity="0.355"/><stop offset="0.458" stop-color="#ebebeb" stop-opacity="0.299"/><stop offset="0.500" stop-color="#ebebeb" stop-opacity="0.248"/><stop offset="0.542" stop-color="#ebebeb" stop-opacity="0.202"/><stop offset="0.583" stop-color="#ebebeb" stop-opacity="0.162"/><stop offset="0.625" stop-color="#ebebeb" stop-opacity="0.128"/><stop offset="0.667" stop-color="#ebebeb" stop-opacity="0.100"/><stop offset="0.708" stop-color="#ebebeb" stop-opacity="0.076"/><stop offset="0.750" stop-color="#ebebeb" stop-opacity="0.057"/><stop offset="0.792" stop-color="#ebebeb" stop-opacity="0.042"/><stop offset="0.833" stop-color="#ebebeb" stop-opacity="0.031"/><stop offset="0.875" stop-color="#ebebeb" stop-opacity="0.022"/><stop offset="0.917" stop-color="#ebebeb" stop-opacity="0.016"/><stop offset="0.958" stop-color="#ebebeb" stop-opacity="0.011"/><stop offset="1.000" stop-color="#ebebeb" stop-opacity="0.000"/></radialGradient>
<radialGradient id="b3b" gradientUnits="userSpaceOnUse" cx="0" cy="0" r="9" gradientTransform="translate(352.6 72.7) scale(1.0 1.0)"><stop offset="0.000" stop-color="#ffffff" stop-opacity="1.000"/><stop offset="0.042" stop-color="#ffffff" stop-opacity="0.993"/><stop offset="0.083" stop-color="#ffffff" stop-opacity="0.971"/><stop offset="0.125" stop-color="#ffffff" stop-opacity="0.936"/><stop offset="0.167" stop-color="#ffffff" stop-opacity="0.890"/><stop offset="0.208" stop-color="#ffffff" stop-opacity="0.833"/><stop offset="0.250" stop-color="#ffffff" stop-opacity="0.768"/><stop offset="0.292" stop-color="#ffffff" stop-opacity="0.699"/><stop offset="0.333" stop-color="#ffffff" stop-opacity="0.626"/><stop offset="0.375" stop-color="#ffffff" stop-opacity="0.553"/><stop offset="0.417" stop-color="#ffffff" stop-opacity="0.481"/><stop offset="0.458" stop-color="#ffffff" stop-opacity="0.413"/><stop offset="0.500" stop-color="#ffffff" stop-opacity="0.349"/><stop offset="0.542" stop-color="#ffffff" stop-opacity="0.290"/><stop offset="0.583" stop-color="#ffffff" stop-opacity="0.238"/><stop offset="0.625" stop-color="#ffffff" stop-opacity="0.193"/><stop offset="0.667" stop-color="#ffffff" stop-opacity="0.154"/><stop offset="0.708" stop-color="#ffffff" stop-opacity="0.121"/><stop offset="0.750" stop-color="#ffffff" stop-opacity="0.093"/><stop offset="0.792" stop-color="#ffffff" stop-opacity="0.071"/><stop offset="0.833" stop-color="#ffffff" stop-opacity="0.054"/><stop offset="0.875" stop-color="#ffffff" stop-opacity="0.040"/><stop offset="0.917" stop-color="#ffffff" stop-opacity="0.029"/><stop offset="0.958" stop-color="#ffffff" stop-opacity="0.021"/><stop offset="1.000" stop-color="#ffffff" stop-opacity="0.000"/></radialGradient>
<radialGradient id="b3c" gradientUnits="userSpaceOnUse" cx="0" cy="0" r="9" gradientTransform="translate(361.9 71.7) scale(1.0 1.0)"><stop offset="0.000" stop-color="#ffffff" stop-opacity="1.000"/><stop offset="0.042" stop-color="#ffffff" stop-opacity="0.993"/><stop offset="0.083" stop-color="#ffffff" stop-opacity="0.971"/><stop offset="0.125" stop-color="#ffffff" stop-opacity="0.936"/><stop offset="0.167" stop-color="#ffffff" stop-opacity="0.890"/><stop offset="0.208" stop-color="#ffffff" stop-opacity="0.833"/><stop offset="0.250" stop-color="#ffffff" stop-opacity="0.768"/><stop offset="0.292" stop-color="#ffffff" stop-opacity="0.699"/><stop offset="0.333" stop-color="#ffffff" stop-opacity="0.626"/><stop offset="0.375" stop-color="#ffffff" stop-opacity="0.553"/><stop offset="0.417" stop-color="#ffffff" stop-opacity="0.481"/><stop offset="0.458" stop-color="#ffffff" stop-opacity="0.413"/><stop offset="0.500" stop-color="#ffffff" stop-opacity="0.349"/><stop offset="0.542" stop-color="#ffffff" stop-opacity="0.290"/><stop offset="0.583" stop-color="#ffffff" stop-opacity="0.238"/><stop offset="0.625" stop-color="#ffffff" stop-opacity="0.193"/><stop offset="0.667" stop-color="#ffffff" stop-opacity="0.154"/><stop offset="0.708" stop-color="#ffffff" stop-opacity="0.121"/><stop offset="0.750" stop-color="#ffffff" stop-opacity="0.093"/><stop offset="0.792" stop-color="#ffffff" stop-opacity="0.071"/><stop offset="0.833" stop-color="#ffffff" stop-opacity="0.054"/><stop offset="0.875" stop-color="#ffffff" stop-opacity="0.040"/><stop offset="0.917" stop-color="#ffffff" stop-opacity="0.029"/><stop offset="0.958" stop-color="#ffffff" stop-opacity="0.021"/><stop offset="1.000" stop-color="#ffffff" stop-opacity="0.000"/></radialGradient>
<radialGradient id="i30" gradientUnits="userSpaceOnUse" cx="0" cy="0" r="6" gradientTransform="translate(339.08 65.23) scale(1.0 1.0)"><stop offset="0.000" stop-color="#dbdbdb" stop-opacity="0.750"/><stop offset="0.042" stop-color="#dbdbdb" stop-opacity="0.744"/><stop offset="0.083" stop-color="#dbdbdb" stop-opacity="0.727"/><stop offset="0.125" stop-color="#dbdbdb" stop-opacity="0.699"/><stop offset="0.167" stop-color="#dbdbdb" stop-opacity="0.662"/><stop offset="0.208" stop-color="#dbdbdb" stop-opacity="0.617"/><stop offset="0.250" stop-color="#dbdbdb" stop-opacity="0.566"/><stop offset="0.292" stop-color="#dbdbdb" stop-opacity="0.511"/><stop offset="0.333" stop-color="#dbdbdb" stop-opacity="0.455"/><stop offset="0.375" stop-color="#dbdbdb" stop-opacity="0.398"/><stop offset="0.417" stop-color="#dbdbdb" stop-opacity="0.343"/><stop offset="0.458" stop-color="#dbdbdb" stop-opacity="0.291"/><stop offset="0.500" stop-color="#dbdbdb" stop-opacity="0.243"/><stop offset="0.542" stop-color="#dbdbdb" stop-opacity="0.200"/><stop offset="0.583" stop-color="#dbdbdb" stop-opacity="0.162"/><stop offset="0.625" stop-color="#dbdbdb" stop-opacity="0.129"/><stop offset="0.667" stop-color="#dbdbdb" stop-opacity="0.102"/><stop offset="0.708" stop-color="#dbdbdb" stop-opacity="0.078"/><stop offset="0.750" stop-color="#dbdbdb" stop-opacity="0.060"/><stop offset="0.792" stop-color="#dbdbdb" stop-opacity="0.045"/><stop offset="0.833" stop-color="#dbdbdb" stop-opacity="0.033"/><stop offset="0.875" stop-color="#dbdbdb" stop-opacity="0.024"/><stop offset="0.917" stop-color="#dbdbdb" stop-opacity="0.017"/><stop offset="0.958" stop-color="#dbdbdb" stop-opacity="0.012"/><stop offset="1.000" stop-color="#dbdbdb" stop-opacity="0.000"/></radialGradient>
<radialGradient id="i31" gradientUnits="userSpaceOnUse" cx="0" cy="0" r="6" gradientTransform="translate(339.04 79.32) scale(1.0 1.0)"><stop offset="0.000" stop-color="#dedede" stop-opacity="0.700"/><stop offset="0.042" stop-color="#dedede" stop-opacity="0.695"/><stop offset="0.083" stop-color="#dedede" stop-opacity="0.678"/><stop offset="0.125" stop-color="#dedede" stop-opacity="0.652"/><stop offset="0.167" stop-color="#dedede" stop-opacity="0.618"/><stop offset="0.208" stop-color="#dedede" stop-opacity="0.576"/><stop offset="0.250" stop-color="#dedede" stop-opacity="0.528"/><stop offset="0.292" stop-color="#dedede" stop-opacity="0.477"/><stop offset="0.333" stop-color="#dedede" stop-opacity="0.425"/><stop offset="0.375" stop-color="#dedede" stop-opacity="0.372"/><stop offset="0.417" stop-color="#dedede" stop-opacity="0.320"/><stop offset="0.458" stop-color="#dedede" stop-opacity="0.272"/><stop offset="0.500" stop-color="#dedede" stop-opacity="0.227"/><stop offset="0.542" stop-color="#dedede" stop-opacity="0.187"/><stop offset="0.583" stop-color="#dedede" stop-opacity="0.151"/><stop offset="0.625" stop-color="#dedede" stop-opacity="0.121"/><stop offset="0.667" stop-color="#dedede" stop-opacity="0.095"/><stop offset="0.708" stop-color="#dedede" stop-opacity="0.073"/><stop offset="0.750" stop-color="#dedede" stop-opacity="0.056"/><stop offset="0.792" stop-color="#dedede" stop-opacity="0.042"/><stop offset="0.833" stop-color="#dedede" stop-opacity="0.031"/><stop offset="0.875" stop-color="#dedede" stop-opacity="0.022"/><stop offset="0.917" stop-color="#dedede" stop-opacity="0.016"/><stop offset="0.958" stop-color="#dedede" stop-opacity="0.011"/><stop offset="1.000" stop-color="#dedede" stop-opacity="0.000"/></radialGradient>
<radialGradient id="i32" gradientUnits="userSpaceOnUse" cx="0" cy="0" r="6" gradientTransform="translate(367.25 54.84) scale(1.0 1.0)"><stop offset="0.000" stop-color="#dedede" stop-opacity="0.700"/><stop offset="0.042" stop-color="#dedede" stop-opacity="0.695"/><stop offset="0.083" stop-color="#dedede" stop-opacity="0.678"/><stop offset="0.125" stop-color="#dedede" stop-opacity="0.652"/><stop offset="0.167" stop-color="#dedede" stop-opacity="0.618"/><stop offset="0.208" stop-color="#dedede" stop-opacity="0.576"/><stop offset="0.250" stop-color="#dedede" stop-opacity="0.528"/><stop offset="0.292" stop-color="#dedede" stop-opacity="0.477"/><stop offset="0.333" stop-color="#dedede" stop-opacity="0.425"/><stop offset="0.375" stop-color="#dedede" stop-opacity="0.372"/><stop offset="0.417" stop-color="#dedede" stop-opacity="0.320"/><stop offset="0.458" stop-color="#dedede" stop-opacity="0.272"/><stop offset="0.500" stop-color="#dedede" stop-opacity="0.227"/><stop offset="0.542" stop-color="#dedede" stop-opacity="0.187"/><stop offset="0.583" stop-color="#dedede" stop-opacity="0.151"/><stop offset="0.625" stop-color="#dedede" stop-opacity="0.121"/><stop offset="0.667" stop-color="#dedede" stop-opacity="0.095"/><stop offset="0.708" stop-color="#dedede" stop-opacity="0.073"/><stop offset="0.750" stop-color="#dedede" stop-opacity="0.056"/><stop offset="0.792" stop-color="#dedede" stop-opacity="0.042"/><stop offset="0.833" stop-color="#dedede" stop-opacity="0.031"/><stop offset="0.875" stop-color="#dedede" stop-opacity="0.022"/><stop offset="0.917" stop-color="#dedede" stop-opacity="0.016"/><stop offset="0.958" stop-color="#dedede" stop-opacity="0.011"/><stop offset="1.000" stop-color="#dedede" stop-opacity="0.000"/></radialGradient>
<radialGradient id="i33" gradientUnits="userSpaceOnUse" cx="0" cy="0" r="6" gradientTransform="translate(370.31 86.24) scale(1.0 1.0)"><stop offset="0.000" stop-color="#e0e0e0" stop-opacity="0.600"/><stop offset="0.042" stop-color="#e0e0e0" stop-opacity="0.595"/><stop offset="0.083" stop-color="#e0e0e0" stop-opacity="0.582"/><stop offset="0.125" stop-color="#e0e0e0" stop-opacity="0.559"/><stop offset="0.167" stop-color="#e0e0e0" stop-opacity="0.529"/><stop offset="0.208" stop-color="#e0e0e0" stop-opacity="0.494"/><stop offset="0.250" stop-color="#e0e0e0" stop-opacity="0.453"/><stop offset="0.292" stop-color="#e0e0e0" stop-opacity="0.409"/><stop offset="0.333" stop-color="#e0e0e0" stop-opacity="0.364"/><stop offset="0.375" stop-color="#e0e0e0" stop-opacity="0.319"/><stop offset="0.417" stop-color="#e0e0e0" stop-opacity="0.275"/><stop offset="0.458" stop-color="#e0e0e0" stop-opacity="0.233"/><stop offset="0.500" stop-color="#e0e0e0" stop-opacity="0.195"/><stop offset="0.542" stop-color="#e0e0e0" stop-opacity="0.160"/><stop offset="0.583" stop-color="#e0e0e0" stop-opacity="0.130"/><stop offset="0.625" stop-color="#e0e0e0" stop-opacity="0.103"/><stop offset="0.667" stop-color="#e0e0e0" stop-opacity="0.081"/><stop offset="0.708" stop-color="#e0e0e0" stop-opacity="0.063"/><stop offset="0.750" stop-color="#e0e0e0" stop-opacity="0.048"/><stop offset="0.792" stop-color="#e0e0e0" stop-opacity="0.036"/><stop offset="0.833" stop-color="#e0e0e0" stop-opacity="0.026"/><stop offset="0.875" stop-color="#e0e0e0" stop-opacity="0.019"/><stop offset="0.917" stop-color="#e0e0e0" stop-opacity="0.014"/><stop offset="0.958" stop-color="#e0e0e0" stop-opacity="0.010"/><stop offset="1.000" stop-color="#e0e0e0" stop-opacity="0.000"/></radialGradient>
<radialGradient id="i34" gradientUnits="userSpaceOnUse" cx="0" cy="0" r="6" gradientTransform="translate(351.37 53.35) scale(1.0 1.0)"><stop offset="0.000" stop-color="#e0e0e0" stop-opacity="0.550"/><stop offset="0.042" stop-color="#e0e0e0" stop-opacity="0.546"/><stop offset="0.083" stop-color="#e0e0e0" stop-opacity="0.533"/><stop offset="0.125" stop-color="#e0e0e0" stop-opacity="0.513"/><stop offset="0.167" stop-color="#e0e0e0" stop-opacity="0.485"/><stop offset="0.208" stop-color="#e0e0e0" stop-opacity="0.452"/><stop offset="0.250" stop-color="#e0e0e0" stop-opacity="0.415"/><stop offset="0.292" stop-color="#e0e0e0" stop-opacity="0.375"/><stop offset="0.333" stop-color="#e0e0e0" stop-opacity="0.334"/><stop offset="0.375" stop-color="#e0e0e0" stop-opacity="0.292"/><stop offset="0.417" stop-color="#e0e0e0" stop-opacity="0.252"/><stop offset="0.458" stop-color="#e0e0e0" stop-opacity="0.214"/><stop offset="0.500" stop-color="#e0e0e0" stop-opacity="0.179"/><stop offset="0.542" stop-color="#e0e0e0" stop-opacity="0.147"/><stop offset="0.583" stop-color="#e0e0e0" stop-opacity="0.119"/><stop offset="0.625" stop-color="#e0e0e0" stop-opacity="0.095"/><stop offset="0.667" stop-color="#e0e0e0" stop-opacity="0.074"/><stop offset="0.708" stop-color="#e0e0e0" stop-opacity="0.058"/><stop offset="0.750" stop-color="#e0e0e0" stop-opacity="0.044"/><stop offset="0.792" stop-color="#e0e0e0" stop-opacity="0.033"/><stop offset="0.833" stop-color="#e0e0e0" stop-opacity="0.024"/><stop offset="0.875" stop-color="#e0e0e0" stop-opacity="0.018"/><stop offset="0.917" stop-color="#e0e0e0" stop-opacity="0.013"/><stop offset="0.958" stop-color="#e0e0e0" stop-opacity="0.009"/><stop offset="1.000" stop-color="#e0e0e0" stop-opacity="0.000"/></radialGradient>
<radialGradient id="i35" gradientUnits="userSpaceOnUse" cx="0" cy="0" r="6" gradientTransform="translate(353.98 91.3) scale(1.0 1.0)"><stop offset="0.000" stop-color="#e0e0e0" stop-opacity="0.500"/><stop offset="0.042" stop-color="#e0e0e0" stop-opacity="0.496"/><stop offset="0.083" stop-color="#e0e0e0" stop-opacity="0.485"/><stop offset="0.125" stop-color="#e0e0e0" stop-opacity="0.466"/><stop offset="0.167" stop-color="#e0e0e0" stop-opacity="0.441"/><stop offset="0.208" stop-color="#e0e0e0" stop-opacity="0.411"/><stop offset="0.250" stop-color="#e0e0e0" stop-opacity="0.377"/><stop offset="0.292" stop-color="#e0e0e0" stop-opacity="0.341"/><stop offset="0.333" stop-color="#e0e0e0" stop-opacity="0.303"/><stop offset="0.375" stop-color="#e0e0e0" stop-opacity="0.266"/><stop offset="0.417" stop-color="#e0e0e0" stop-opacity="0.229"/><stop offset="0.458" stop-color="#e0e0e0" stop-opacity="0.194"/><stop offset="0.500" stop-color="#e0e0e0" stop-opacity="0.162"/><stop offset="0.542" stop-color="#e0e0e0" stop-opacity="0.134"/><stop offset="0.583" stop-color="#e0e0e0" stop-opacity="0.108"/><stop offset="0.625" stop-color="#e0e0e0" stop-opacity="0.086"/><stop offset="0.667" stop-color="#e0e0e0" stop-opacity="0.068"/><stop offset="0.708" stop-color="#e0e0e0" stop-opacity="0.052"/><stop offset="0.750" stop-color="#e0e0e0" stop-opacity="0.040"/><stop offset="0.792" stop-color="#e0e0e0" stop-opacity="0.030"/><stop offset="0.833" stop-color="#e0e0e0" stop-opacity="0.022"/><stop offset="0.875" stop-color="#e0e0e0" stop-opacity="0.016"/><stop offset="0.917" stop-color="#e0e0e0" stop-opacity="0.011"/><stop offset="0.958" stop-color="#e0e0e0" stop-opacity="0.008"/><stop offset="1.000" stop-color="#e0e0e0" stop-opacity="0.000"/></radialGradient>
<radialGradient id="i36" gradientUnits="userSpaceOnUse" cx="0" cy="0" r="6" gradientTransform="translate(376.24 66.85) scale(1.0 1.0)"><stop offset="0.000" stop-color="#dedede" stop-opacity="0.600"/><stop offset="0.042" stop-color="#dedede" stop-opacity="0.595"/><stop offset="0.083" stop-color="#dedede" stop-opacity="0.582"/><stop offset="0.125" stop-color="#dedede" stop-opacity="0.559"/><stop offset="0.167" stop-color="#dedede" stop-opacity="0.529"/><stop offset="0.208" stop-color="#dedede" stop-opacity="0.494"/><stop offset="0.250" stop-color="#dedede" stop-opacity="0.453"/><stop offset="0.292" stop-color="#dedede" stop-opacity="0.409"/><stop offset="0.333" stop-color="#dedede" stop-opacity="0.364"/><stop offset="0.375" stop-color="#dedede" stop-opacity="0.319"/><stop offset="0.417" stop-color="#dedede" stop-opacity="0.275"/><stop offset="0.458" stop-color="#dedede" stop-opacity="0.233"/><stop offset="0.500" stop-color="#dedede" stop-opacity="0.195"/><stop offset="0.542" stop-color="#dedede" stop-opacity="0.160"/><stop offset="0.583" stop-color="#dedede" stop-opacity="0.130"/><stop offset="0.625" stop-color="#dedede" stop-opacity="0.103"/><stop offset="0.667" stop-color="#dedede" stop-opacity="0.081"/><stop offset="0.708" stop-color="#dedede" stop-opacity="0.063"/><stop offset="0.750" stop-color="#dedede" stop-opacity="0.048"/><stop offset="0.792" stop-color="#dedede" stop-opacity="0.036"/><stop offset="0.833" stop-color="#dedede" stop-opacity="0.026"/><stop offset="0.875" stop-color="#dedede" stop-opacity="0.019"/><stop offset="0.917" stop-color="#dedede" stop-opacity="0.014"/><stop offset="0.958" stop-color="#dedede" stop-opacity="0.010"/><stop offset="1.000" stop-color="#dedede" stop-opacity="0.000"/></radialGradient>
<clipPath id="c3"><rect x="311.1" y="32.2" width="93.30" height="77.35"/></clipPath>
<radialGradient id="g4" gradientUnits="userSpaceOnUse" cx="0" cy="0" r="75" gradientTransform="translate(499.5 69.8) scale(1.0 1.0)"><stop offset="0.0000" stop-color="#8c8c8c"/><stop offset="0.0067" stop-color="#8c8c8c"/><stop offset="0.0133" stop-color="#8c8c8c"/><stop offset="0.0200" stop-color="#8c8c8c"/><stop offset="0.0267" stop-color="#8c8c8c"/><stop offset="0.0333" stop-color="#8c8c8c"/><stop offset="0.0400" stop-color="#8c8c8c"/><stop offset="0.0467" stop-color="#8c8c8c"/><stop offset="0.0533" stop-color="#8c8c8c"/><stop offset="0.0600" stop-color="#8b8b8b"/><stop offset="0.0667" stop-color="#898989"/><stop offset="0.0733" stop-color="#868686"/><stop offset="0.0800" stop-color="#838383"/><stop offset="0.0867" stop-color="#808080"/><stop offset="0.0933" stop-color="#808080"/><stop offset="0.1000" stop-color="#7f7f7f"/><stop offset="0.1067" stop-color="#7c7c7c"/><stop offset="0.1133" stop-color="#797979"/><stop offset="0.1200" stop-color="#757575"/><stop offset="0.1267" stop-color="#717171"/><stop offset="0.1333" stop-color="#6f6f6f"/><stop offset="0.1400" stop-color="#6e6e6e"/><stop offset="0.1467" stop-color="#717171"/><stop offset="0.1533" stop-color="#7e7e7e"/><stop offset="0.1600" stop-color="#8c8c8c"/><stop offset="0.1667" stop-color="#949494"/><stop offset="0.1733" stop-color="#9c9c9c"/><stop offset="0.1800" stop-color="#b3b3b3"/><stop offset="0.1867" stop-color="#c6c6c6"/><stop offset="0.1933" stop-color="#cbcbcb"/><stop offset="0.2000" stop-color="#d6d6d6"/><stop offset="0.2067" stop-color="#dfdfdf"/><stop offset="0.2133" stop-color="#e4e4e4"/><stop offset="0.2200" stop-color="#ededed"/><stop offset="0.2267" stop-color="#eeeeee"/><stop offset="0.2333" stop-color="#f3f3f3"/><stop offset="0.2400" stop-color="#f7f7f7"/><stop offset="0.2467" stop-color="#f8f8f8"/><stop offset="0.2533" stop-color="#f5f5f5"/><stop offset="0.2600" stop-color="#efefef"/><stop offset="0.2667" stop-color="#ededed"/><stop offset="0.2733" stop-color="#e3e3e3"/><stop offset="0.2800" stop-color="#dedede"/><stop offset="0.2867" stop-color="#d2d2d2"/><stop offset="0.2933" stop-color="#c9c9c9"/><stop offset="0.3000" stop-color="#c3c3c3"/><stop offset="0.3067" stop-color="#b1b1b1"/><stop offset="0.3133" stop-color="#9f9f9f"/><stop offset="0.3200" stop-color="#999999"/><stop offset="0.3267" stop-color="#8c8c8c"/><stop offset="0.3333" stop-color="#777777"/><stop offset="0.3400" stop-color="#6a6a6a"/><stop offset="0.3467" stop-color="#666666"/><stop offset="0.3533" stop-color="#5b5b5b"/><stop offset="0.3600" stop-color="#505050"/><stop offset="0.3667" stop-color="#4c4c4c"/><stop offset="0.3733" stop-color="#4b4b4b"/><stop offset="0.3800" stop-color="#474747"/><stop offset="0.3867" stop-color="#434343"/><stop offset="0.3933" stop-color="#404040"/><stop offset="0.4000" stop-color="#3e3e3e"/><stop offset="0.4067" stop-color="#3e3e3e"/><stop offset="0.4133" stop-color="#3c3c3c"/><stop offset="0.4200" stop-color="#393939"/><stop offset="0.4267" stop-color="#363636"/><stop offset="0.4333" stop-color="#343434"/><stop offset="0.4400" stop-color="#333333"/><stop offset="0.4467" stop-color="#323232"/><stop offset="0.4533" stop-color="#313131"/><stop offset="0.4600" stop-color="#2f2f2f"/><stop offset="0.4667" stop-color="#2c2c2c"/><stop offset="0.4733" stop-color="#2b2b2b"/><stop offset="0.4800" stop-color="#2a2a2a"/><stop offset="0.4867" stop-color="#2a2a2a"/><stop offset="0.4933" stop-color="#292929"/><stop offset="0.5000" stop-color="#282828"/><stop offset="0.5067" stop-color="#262626"/><stop offset="0.5133" stop-color="#252525"/><stop offset="0.5200" stop-color="#242424"/><stop offset="0.5267" stop-color="#232323"/><stop offset="0.5333" stop-color="#222222"/><stop offset="0.5400" stop-color="#222222"/><stop offset="0.5467" stop-color="#222222"/><stop offset="0.5533" stop-color="#212121"/><stop offset="0.5600" stop-color="#202020"/><stop offset="0.5667" stop-color="#1f1f1f"/><stop offset="0.5733" stop-color="#1e1e1e"/><stop offset="0.5800" stop-color="#1d1d1d"/><stop offset="0.5867" stop-color="#1d1d1d"/><stop offset="0.5933" stop-color="#1c1c1c"/><stop offset="0.6000" stop-color="#1c1c1c"/><stop offset="0.6067" stop-color="#1c1c1c"/><stop offset="0.6133" stop-color="#1c1c1c"/><stop offset="0.6200" stop-color="#1b1b1b"/><stop offset="0.6267" stop-color="#1a1a1a"/><stop offset="0.6333" stop-color="#1a1a1a"/><stop offset="0.6400" stop-color="#191919"/><stop offset="0.6467" stop-color="#181818"/><stop offset="0.6533" stop-color="#171717"/><stop offset="0.6600" stop-color="#171717"/><stop offset="0.6667" stop-color="#161616"/><stop offset="0.6733" stop-color="#161616"/><stop offset="0.6800" stop-color="#161616"/><stop offset="0.6867" stop-color="#161616"/><stop offset="0.6933" stop-color="#151515"/><stop offset="0.7000" stop-color="#151515"/><stop offset="0.7067" stop-color="#151515"/><stop offset="0.7133" stop-color="#141414"/><stop offset="0.7200" stop-color="#141414"/><stop offset="0.7267" stop-color="#131313"/><stop offset="0.7333" stop-color="#131313"/><stop offset="0.7400" stop-color="#121212"/><stop offset="0.7467" stop-color="#121212"/><stop offset="0.7533" stop-color="#111111"/><stop offset="0.7600" stop-color="#111111"/><stop offset="0.7667" stop-color="#101010"/><stop offset="0.7733" stop-color="#101010"/><stop offset="0.7800" stop-color="#0f0f0f"/><stop offset="0.7867" stop-color="#0f0f0f"/><stop offset="0.7933" stop-color="#0f0f0f"/><stop offset="0.8000" stop-color="#0f0f0f"/><stop offset="0.8067" stop-color="#0f0f0f"/><stop offset="0.8133" stop-color="#0f0f0f"/><stop offset="0.8200" stop-color="#0f0f0f"/><stop offset="0.8267" stop-color="#0f0f0f"/><stop offset="0.8333" stop-color="#0f0f0f"/><stop offset="0.8400" stop-color="#0e0e0e"/><stop offset="0.8467" stop-color="#0e0e0e"/><stop offset="0.8533" stop-color="#0e0e0e"/><stop offset="0.8600" stop-color="#0e0e0e"/><stop offset="0.8667" stop-color="#0e0e0e"/><stop offset="0.8733" stop-color="#0e0e0e"/><stop offset="0.8800" stop-color="#0e0e0e"/><stop offset="0.8867" stop-color="#0d0d0d"/><stop offset="0.8933" stop-color="#0d0d0d"/><stop offset="0.9000" stop-color="#0d0d0d"/><stop offset="0.9067" stop-color="#0d0d0d"/><stop offset="0.9133" stop-color="#0d0d0d"/><stop offset="0.9200" stop-color="#0d0d0d"/><stop offset="0.9267" stop-color="#0c0c0c"/><stop offset="0.9333" stop-color="#0c0c0c"/><stop offset="0.9400" stop-color="#0c0c0c"/><stop offset="0.9467" stop-color="#0c0c0c"/><stop offset="0.9533" stop-color="#0c0c0c"/><stop offset="0.9600" stop-color="#0c0c0c"/><stop offset="0.9667" stop-color="#0c0c0c"/><stop offset="0.9733" stop-color="#0c0c0c"/><stop offset="0.9800" stop-color="#0c0c0c"/><stop offset="0.9867" stop-color="#0c0c0c"/><stop offset="0.9933" stop-color="#0b0b0b"/><stop offset="1.0000" stop-color="#0b0b0b"/></radialGradient>
<radialGradient id="b4b" gradientUnits="userSpaceOnUse" cx="0" cy="0" r="9" gradientTransform="translate(494.6 69.6) scale(1.0 1.35)"><stop offset="0.000" stop-color="#c2c2c2" stop-opacity="1.000"/><stop offset="0.042" stop-color="#c2c2c2" stop-opacity="0.990"/><stop offset="0.083" stop-color="#c2c2c2" stop-opacity="0.959"/><stop offset="0.125" stop-color="#c2c2c2" stop-opacity="0.911"/><stop offset="0.167" stop-color="#c2c2c2" stop-opacity="0.847"/><stop offset="0.208" stop-color="#c2c2c2" stop-opacity="0.771"/><stop offset="0.250" stop-color="#c2c2c2" stop-opacity="0.688"/><stop offset="0.292" stop-color="#c2c2c2" stop-opacity="0.601"/><stop offset="0.333" stop-color="#c2c2c2" stop-opacity="0.514"/><stop offset="0.375" stop-color="#c2c2c2" stop-opacity="0.431"/><stop offset="0.417" stop-color="#c2c2c2" stop-opacity="0.353"/><stop offset="0.458" stop-color="#c2c2c2" stop-opacity="0.284"/><stop offset="0.500" stop-color="#c2c2c2" stop-opacity="0.224"/><stop offset="0.542" stop-color="#c2c2c2" stop-opacity="0.172"/><stop offset="0.583" stop-color="#c2c2c2" stop-opacity="0.130"/><stop offset="0.625" stop-color="#c2c2c2" stop-opacity="0.096"/><stop offset="0.667" stop-color="#c2c2c2" stop-opacity="0.070"/><stop offset="0.708" stop-color="#c2c2c2" stop-opacity="0.049"/><stop offset="0.750" stop-color="#c2c2c2" stop-opacity="0.034"/><stop offset="0.792" stop-color="#c2c2c2" stop-opacity="0.023"/><stop offset="0.833" stop-color="#c2c2c2" stop-opacity="0.016"/><stop offset="0.875" stop-color="#c2c2c2" stop-opacity="0.010"/><stop offset="0.917" stop-color="#c2c2c2" stop-opacity="0.007"/><stop offset="0.958" stop-color="#c2c2c2" stop-opacity="0.004"/><stop offset="1.000" stop-color="#c2c2c2" stop-opacity="0.000"/></radialGradient>
<radialGradient id="b4c" gradientUnits="userSpaceOnUse" cx="0" cy="0" r="9" gradientTransform="translate(505.6 69.4) scale(1.0 1.35)"><stop offset="0.000" stop-color="#c2c2c2" stop-opacity="1.000"/><stop offset="0.042" stop-color="#c2c2c2" stop-opacity="0.990"/><stop offset="0.083" stop-color="#c2c2c2" stop-opacity="0.959"/><stop offset="0.125" stop-color="#c2c2c2" stop-opacity="0.911"/><stop offset="0.167" stop-color="#c2c2c2" stop-opacity="0.847"/><stop offset="0.208" stop-color="#c2c2c2" stop-opacity="0.771"/><stop offset="0.250" stop-color="#c2c2c2" stop-opacity="0.688"/><stop offset="0.292" stop-color="#c2c2c2" stop-opacity="0.601"/><stop offset="0.333" stop-color="#c2c2c2" stop-opacity="0.514"/><stop offset="0.375" stop-color="#c2c2c2" stop-opacity="0.431"/><stop offset="0.417" stop-color="#c2c2c2" stop-opacity="0.353"/><stop offset="0.458" stop-color="#c2c2c2" stop-opacity="0.284"/><stop offset="0.500" stop-color="#c2c2c2" stop-opacity="0.224"/><stop offset="0.542" stop-color="#c2c2c2" stop-opacity="0.172"/><stop offset="0.583" stop-color="#c2c2c2" stop-opacity="0.130"/><stop offset="0.625" stop-color="#c2c2c2" stop-opacity="0.096"/><stop offset="0.667" stop-color="#c2c2c2" stop-opacity="0.070"/><stop offset="0.708" stop-color="#c2c2c2" stop-opacity="0.049"/><stop offset="0.750" stop-color="#c2c2c2" stop-opacity="0.034"/><stop offset="0.792" stop-color="#c2c2c2" stop-opacity="0.023"/><stop offset="0.833" stop-color="#c2c2c2" stop-opacity="0.016"/><stop offset="0.875" stop-color="#c2c2c2" stop-opacity="0.010"/><stop offset="0.917" stop-color="#c2c2c2" stop-opacity="0.007"/><stop offset="0.958" stop-color="#c2c2c2" stop-opacity="0.004"/><stop offset="1.000" stop-color="#c2c2c2" stop-opacity="0.000"/></radialGradient>
<radialGradient id="i40" gradientUnits="userSpaceOnUse" cx="0" cy="0" r="6" gradientTransform="translate(484.35 59.19) scale(1.0 1.0)"><stop offset="0.000" stop-color="#dbdbdb" stop-opacity="0.700"/><stop offset="0.042" stop-color="#dbdbdb" stop-opacity="0.695"/><stop offset="0.083" stop-color="#dbdbdb" stop-opacity="0.678"/><stop offset="0.125" stop-color="#dbdbdb" stop-opacity="0.652"/><stop offset="0.167" stop-color="#dbdbdb" stop-opacity="0.618"/><stop offset="0.208" stop-color="#dbdbdb" stop-opacity="0.576"/><stop offset="0.250" stop-color="#dbdbdb" stop-opacity="0.528"/><stop offset="0.292" stop-color="#dbdbdb" stop-opacity="0.477"/><stop offset="0.333" stop-color="#dbdbdb" stop-opacity="0.425"/><stop offset="0.375" stop-color="#dbdbdb" stop-opacity="0.372"/><stop offset="0.417" stop-color="#dbdbdb" stop-opacity="0.320"/><stop offset="0.458" stop-color="#dbdbdb" stop-opacity="0.272"/><stop offset="0.500" stop-color="#dbdbdb" stop-opacity="0.227"/><stop offset="0.542" stop-color="#dbdbdb" stop-opacity="0.187"/><stop offset="0.583" stop-color="#dbdbdb" stop-opacity="0.151"/><stop offset="0.625" stop-color="#dbdbdb" stop-opacity="0.121"/><stop offset="0.667" stop-color="#dbdbdb" stop-opacity="0.095"/><stop offset="0.708" stop-color="#dbdbdb" stop-opacity="0.073"/><stop offset="0.750" stop-color="#dbdbdb" stop-opacity="0.056"/><stop offset="0.792" stop-color="#dbdbdb" stop-opacity="0.042"/><stop offset="0.833" stop-color="#dbdbdb" stop-opacity="0.031"/><stop offset="0.875" stop-color="#dbdbdb" stop-opacity="0.022"/><stop offset="0.917" stop-color="#dbdbdb" stop-opacity="0.016"/><stop offset="0.958" stop-color="#dbdbdb" stop-opacity="0.011"/><stop offset="1.000" stop-color="#dbdbdb" stop-opacity="0.000"/></radialGradient>
<radialGradient id="i41" gradientUnits="userSpaceOnUse" cx="0" cy="0" r="6" gradientTransform="translate(485.17 81.82) scale(1.0 1.0)"><stop offset="0.000" stop-color="#dedede" stop-opacity="0.650"/><stop offset="0.042" stop-color="#dedede" stop-opacity="0.645"/><stop offset="0.083" stop-color="#dedede" stop-opacity="0.630"/><stop offset="0.125" stop-color="#dedede" stop-opacity="0.606"/><stop offset="0.167" stop-color="#dedede" stop-opacity="0.574"/><stop offset="0.208" stop-color="#dedede" stop-opacity="0.535"/><stop offset="0.250" stop-color="#dedede" stop-opacity="0.491"/><stop offset="0.292" stop-color="#dedede" stop-opacity="0.443"/><stop offset="0.333" stop-color="#dedede" stop-opacity="0.394"/><stop offset="0.375" stop-color="#dedede" stop-opacity="0.345"/><stop offset="0.417" stop-color="#dedede" stop-opacity="0.298"/><stop offset="0.458" stop-color="#dedede" stop-opacity="0.253"/><stop offset="0.500" stop-color="#dedede" stop-opacity="0.211"/><stop offset="0.542" stop-color="#dedede" stop-opacity="0.174"/><stop offset="0.583" stop-color="#dedede" stop-opacity="0.141"/><stop offset="0.625" stop-color="#dedede" stop-opacity="0.112"/><stop offset="0.667" stop-color="#dedede" stop-opacity="0.088"/><stop offset="0.708" stop-color="#dedede" stop-opacity="0.068"/><stop offset="0.750" stop-color="#dedede" stop-opacity="0.052"/><stop offset="0.792" stop-color="#dedede" stop-opacity="0.039"/><stop offset="0.833" stop-color="#dedede" stop-opacity="0.029"/><stop offset="0.875" stop-color="#dedede" stop-opacity="0.021"/><stop offset="0.917" stop-color="#dedede" stop-opacity="0.015"/><stop offset="0.958" stop-color="#dedede" stop-opacity="0.010"/><stop offset="1.000" stop-color="#dedede" stop-opacity="0.000"/></radialGradient>
<radialGradient id="i42" gradientUnits="userSpaceOnUse" cx="0" cy="0" r="6" gradientTransform="translate(505.83 52.42) scale(1.0 1.0)"><stop offset="0.000" stop-color="#e0e0e0" stop-opacity="0.550"/><stop offset="0.042" stop-color="#e0e0e0" stop-opacity="0.546"/><stop offset="0.083" stop-color="#e0e0e0" stop-opacity="0.533"/><stop offset="0.125" stop-color="#e0e0e0" stop-opacity="0.513"/><stop offset="0.167" stop-color="#e0e0e0" stop-opacity="0.485"/><stop offset="0.208" stop-color="#e0e0e0" stop-opacity="0.452"/><stop offset="0.250" stop-color="#e0e0e0" stop-opacity="0.415"/><stop offset="0.292" stop-color="#e0e0e0" stop-opacity="0.375"/><stop offset="0.333" stop-color="#e0e0e0" stop-opacity="0.334"/><stop offset="0.375" stop-color="#e0e0e0" stop-opacity="0.292"/><stop offset="0.417" stop-color="#e0e0e0" stop-opacity="0.252"/><stop offset="0.458" stop-color="#e0e0e0" stop-opacity="0.214"/><stop offset="0.500" stop-color="#e0e0e0" stop-opacity="0.179"/><stop offset="0.542" stop-color="#e0e0e0" stop-opacity="0.147"/><stop offset="0.583" stop-color="#e0e0e0" stop-opacity="0.119"/><stop offset="0.625" stop-color="#e0e0e0" stop-opacity="0.095"/><stop offset="0.667" stop-color="#e0e0e0" stop-opacity="0.074"/><stop offset="0.708" stop-color="#e0e0e0" stop-opacity="0.058"/><stop offset="0.750" stop-color="#e0e0e0" stop-opacity="0.044"/><stop offset="0.792" stop-color="#e0e0e0" stop-opacity="0.033"/><stop offset="0.833" stop-color="#e0e0e0" stop-opacity="0.024"/><stop offset="0.875" stop-color="#e0e0e0" stop-opacity="0.018"/><stop offset="0.917" stop-color="#e0e0e0" stop-opacity="0.013"/><stop offset="0.958" stop-color="#e0e0e0" stop-opacity="0.009"/><stop offset="1.000" stop-color="#e0e0e0" stop-opacity="0.000"/></radialGradient>
<radialGradient id="i43" gradientUnits="userSpaceOnUse" cx="0" cy="0" r="6" gradientTransform="translate(508.75 85.82) scale(1.0 1.0)"><stop offset="0.000" stop-color="#e0e0e0" stop-opacity="0.550"/><stop offset="0.042" stop-color="#e0e0e0" stop-opacity="0.546"/><stop offset="0.083" stop-color="#e0e0e0" stop-opacity="0.533"/><stop offset="0.125" stop-color="#e0e0e0" stop-opacity="0.513"/><stop offset="0.167" stop-color="#e0e0e0" stop-opacity="0.485"/><stop offset="0.208" stop-color="#e0e0e0" stop-opacity="0.452"/><stop offset="0.250" stop-color="#e0e0e0" stop-opacity="0.415"/><stop offset="0.292" stop-color="#e0e0e0" stop-opacity="0.375"/><stop offset="0.333" stop-color="#e0e0e0" stop-opacity="0.334"/><stop offset="0.375" stop-color="#e0e0e0" stop-opacity="0.292"/><stop offset="0.417" stop-color="#e0e0e0" stop-opacity="0.252"/><stop offset="0.458" stop-color="#e0e0e0" stop-opacity="0.214"/><stop offset="0.500" stop-color="#e0e0e0" stop-opacity="0.179"/><stop offset="0.542" stop-color="#e0e0e0" stop-opacity="0.147"/><stop offset="0.583" stop-color="#e0e0e0" stop-opacity="0.119"/><stop offset="0.625" stop-color="#e0e0e0" stop-opacity="0.095"/><stop offset="0.667" stop-color="#e0e0e0" stop-opacity="0.074"/><stop offset="0.708" stop-color="#e0e0e0" stop-opacity="0.058"/><stop offset="0.750" stop-color="#e0e0e0" stop-opacity="0.044"/><stop offset="0.792" stop-color="#e0e0e0" stop-opacity="0.033"/><stop offset="0.833" stop-color="#e0e0e0" stop-opacity="0.024"/><stop offset="0.875" stop-color="#e0e0e0" stop-opacity="0.018"/><stop offset="0.917" stop-color="#e0e0e0" stop-opacity="0.013"/><stop offset="0.958" stop-color="#e0e0e0" stop-opacity="0.009"/><stop offset="1.000" stop-color="#e0e0e0" stop-opacity="0.000"/></radialGradient>
<radialGradient id="i44" gradientUnits="userSpaceOnUse" cx="0" cy="0" r="6" gradientTransform="translate(481.0 69.8) scale(1.0 1.0)"><stop offset="0.000" stop-color="#e0e0e0" stop-opacity="0.500"/><stop offset="0.042" stop-color="#e0e0e0" stop-opacity="0.496"/><stop offset="0.083" stop-color="#e0e0e0" stop-opacity="0.485"/><stop offset="0.125" stop-color="#e0e0e0" stop-opacity="0.466"/><stop offset="0.167" stop-color="#e0e0e0" stop-opacity="0.441"/><stop offset="0.208" stop-color="#e0e0e0" stop-opacity="0.411"/><stop offset="0.250" stop-color="#e0e0e0" stop-opacity="0.377"/><stop offset="0.292" stop-color="#e0e0e0" stop-opacity="0.341"/><stop offset="0.333" stop-color="#e0e0e0" stop-opacity="0.303"/><stop offset="0.375" stop-color="#e0e0e0" stop-opacity="0.266"/><stop offset="0.417" stop-color="#e0e0e0" stop-opacity="0.229"/><stop offset="0.458" stop-color="#e0e0e0" stop-opacity="0.194"/><stop offset="0.500" stop-color="#e0e0e0" stop-opacity="0.162"/><stop offset="0.542" stop-color="#e0e0e0" stop-opacity="0.134"/><stop offset="0.583" stop-color="#e0e0e0" stop-opacity="0.108"/><stop offset="0.625" stop-color="#e0e0e0" stop-opacity="0.086"/><stop offset="0.667" stop-color="#e0e0e0" stop-opacity="0.068"/><stop offset="0.708" stop-color="#e0e0e0" stop-opacity="0.052"/><stop offset="0.750" stop-color="#e0e0e0" stop-opacity="0.040"/><stop offset="0.792" stop-color="#e0e0e0" stop-opacity="0.030"/><stop offset="0.833" stop-color="#e0e0e0" stop-opacity="0.022"/><stop offset="0.875" stop-color="#e0e0e0" stop-opacity="0.016"/><stop offset="0.917" stop-color="#e0e0e0" stop-opacity="0.011"/><stop offset="0.958" stop-color="#e0e0e0" stop-opacity="0.008"/><stop offset="1.000" stop-color="#e0e0e0" stop-opacity="0.000"/></radialGradient>
<clipPath id="c4"><rect x="453.0" y="30.9" width="92.90" height="78.65"/></clipPath>
<clipPath id="d1"><rect x="37.5" y="142.7" width="90.60" height="91.20"/></clipPath>
<clipPath id="d2"><rect x="172.1" y="141.8" width="96.70" height="91.60"/></clipPath>
<clipPath id="d3"><rect x="307.9" y="142.4" width="99.50" height="91.50"/></clipPath>
<clipPath id="d4"><rect x="445.6" y="142.8" width="98.70" height="90.00"/></clipPath>
</defs>
<rect width="550" height="259" fill="#fff"/>
<g clip-path="url(#c1)"><g filter="url(#cmA)">
<rect x="56.3" y="45.4" width="56.50" height="56.30" fill="#0c0c0c"/>
<rect x="50" y="40" width="70" height="70" fill="url(#g1)"/>
</g></g>
<path d="M39.7 37.0V111.6H125.5" fill="none" stroke="#7d7d7d" stroke-width="0.6"/>
<path d="M56.40 111.6v2.2M98.40 111.6v2.2M39.60 111.6v1.2M43.80 111.6v1.2M48.00 111.6v1.2M52.20 111.6v1.2M56.40 111.6v1.2M60.60 111.6v1.2M64.80 111.6v1.2M69.00 111.6v1.2M73.20 111.6v1.2M77.40 111.6v1.2M81.60 111.6v1.2M85.80 111.6v1.2M90.00 111.6v1.2M94.20 111.6v1.2M98.40 111.6v1.2M102.60 111.6v1.2M106.80 111.6v1.2M111.00 111.6v1.2M115.20 111.6v1.2M119.40 111.6v1.2M123.60 111.6v1.2M39.7 100.30h-2.2M39.7 79.55h-2.2M39.7 58.80h-2.2M39.7 38.05h-2.2M39.7 108.60h-1.2M39.7 104.45h-1.2M39.7 100.30h-1.2M39.7 96.15h-1.2M39.7 92.00h-1.2M39.7 87.85h-1.2M39.7 83.70h-1.2M39.7 79.55h-1.2M39.7 75.40h-1.2M39.7 71.25h-1.2M39.7 67.10h-1.2M39.7 62.95h-1.2M39.7 58.80h-1.2M39.7 54.65h-1.2M39.7 50.50h-1.2M39.7 46.35h-1.2M39.7 42.20h-1.2M39.7 38.05h-1.2" fill="none" stroke="#6a6a6a" stroke-width="0.5"/>
<text transform="translate(55.10 121.00) scale(1.09 1)" font-size="7.8" text-anchor="middle">−200</text>
<text transform="translate(98.40 121.00) scale(1.09 1)" font-size="7.8" text-anchor="middle">0</text>
<text transform="translate(36.70 103.00) scale(1.09 1)" font-size="7.8" text-anchor="end">100</text>
<text transform="translate(36.70 82.25) scale(1.09 1)" font-size="7.8" text-anchor="end">200</text>
<text transform="translate(36.70 61.50) scale(1.09 1)" font-size="7.8" text-anchor="end">300</text>
<text transform="translate(36.70 40.75) scale(1.09 1)" font-size="7.8" text-anchor="end">400</text>
<text transform="translate(82.00 12.90) scale(1.05 1)" font-size="10.3" text-anchor="middle">Index 0</text>
<text transform="translate(82.00 24.50) scale(1.0 1)" font-size="10.3" text-anchor="middle">100/0</text>
<text transform="translate(83.00 129.50) scale(1.03 1)" font-size="10.3" text-anchor="middle">x<tspan font-size="7.2" dy="1.9">abs</tspan><tspan dy="-1.9"> in µm</tspan></text>
<text transform="translate(17.50 74.30) rotate(-90) scale(1.05 1)" font-size="10.3" text-anchor="middle">y<tspan font-size="7.2" dy="1.9">abs</tspan><tspan dy="-1.9"> in µm</tspan></text>
<g clip-path="url(#c2)"><g filter="url(#cmA)">
<rect x="172.8" y="28.9" width="97.70" height="84.20" fill="#0c0c0c"/>
<rect x="150" y="0" width="141" height="143" fill="url(#g2)"/>
</g></g>
<path d="M174.8 30.9V111.1H268.5" fill="none" stroke="#7d7d7d" stroke-width="0.6"/>
<path d="M176.60 111.1v2.2M220.30 111.1v2.2M264.00 111.1v2.2M176.60 111.1v1.2M180.97 111.1v1.2M185.34 111.1v1.2M189.71 111.1v1.2M194.08 111.1v1.2M198.45 111.1v1.2M202.82 111.1v1.2M207.19 111.1v1.2M211.56 111.1v1.2M215.93 111.1v1.2M220.30 111.1v1.2M224.67 111.1v1.2M229.04 111.1v1.2M233.41 111.1v1.2M237.78 111.1v1.2M242.15 111.1v1.2M246.52 111.1v1.2M250.89 111.1v1.2M255.26 111.1v1.2M259.63 111.1v1.2M264.00 111.1v1.2M268.37 111.1v1.2M174.8 104.80h-2.2M174.8 83.30h-2.2M174.8 61.80h-2.2M174.8 40.30h-2.2M174.8 109.10h-1.2M174.8 104.80h-1.2M174.8 100.50h-1.2M174.8 96.20h-1.2M174.8 91.90h-1.2M174.8 87.60h-1.2M174.8 83.30h-1.2M174.8 79.00h-1.2M174.8 74.70h-1.2M174.8 70.40h-1.2M174.8 66.10h-1.2M174.8 61.80h-1.2M174.8 57.50h-1.2M174.8 53.20h-1.2M174.8 48.90h-1.2M174.8 44.60h-1.2M174.8 40.30h-1.2M174.8 36.00h-1.2M174.8 31.70h-1.2" fill="none" stroke="#6a6a6a" stroke-width="0.5"/>
<text transform="translate(175.30 121.30) scale(1.09 1)" font-size="7.8" text-anchor="middle">−200</text>
<text transform="translate(220.30 121.30) scale(1.09 1)" font-size="7.8" text-anchor="middle">0</text>
<text transform="translate(264.00 121.30) scale(1.09 1)" font-size="7.8" text-anchor="middle">200</text>
<text transform="translate(171.80 107.50) scale(1.09 1)" font-size="7.8" text-anchor="end">100</text>
<text transform="translate(171.80 86.00) scale(1.09 1)" font-size="7.8" text-anchor="end">200</text>
<text transform="translate(171.80 64.50) scale(1.09 1)" font-size="7.8" text-anchor="end">300</text>
<text transform="translate(171.80 43.00) scale(1.09 1)" font-size="7.8" text-anchor="end">400</text>
<text transform="translate(220.00 12.90) scale(1.05 1)" font-size="10.3" text-anchor="middle">Index 3</text>
<text transform="translate(220.00 24.50) scale(1.0 1)" font-size="10.3" text-anchor="middle">50/50</text>
<text transform="translate(220.00 131.30) scale(1.03 1)" font-size="10.3" text-anchor="middle">x<tspan font-size="7.2" dy="1.9">abs</tspan><tspan dy="-1.9"> in µm</tspan></text>
<text transform="translate(153.50 71.00) rotate(-90) scale(1.05 1)" font-size="10.3" text-anchor="middle">y<tspan font-size="7.2" dy="1.9">abs</tspan><tspan dy="-1.9"> in µm</tspan></text>
<g clip-path="url(#c3)"><g filter="url(#cmB)">
<rect x="309.1" y="30.200000000000003" width="97.30" height="81.35" fill="#0b0b0b"/>
<rect x="280" y="0" width="160" height="150" fill="url(#g3)"/>
<rect x="335" y="55" width="44" height="36" fill="url(#b3a)"/>
<rect x="335" y="55" width="44" height="36" fill="url(#b3b)"/>
<rect x="335" y="55" width="44" height="36" fill="url(#b3c)"/>
<rect x="332.1" y="58.2" width="14" height="14" fill="url(#i30)"/>
<rect x="332.0" y="72.3" width="14" height="14" fill="url(#i31)"/>
<rect x="360.2" y="47.8" width="14" height="14" fill="url(#i32)"/>
<rect x="363.3" y="79.2" width="14" height="14" fill="url(#i33)"/>
<rect x="344.4" y="46.4" width="14" height="14" fill="url(#i34)"/>
<rect x="347.0" y="84.3" width="14" height="14" fill="url(#i35)"/>
<rect x="369.2" y="59.9" width="14" height="14" fill="url(#i36)"/>
</g></g>
<path d="M311.1 32.2V109.55H404.4" fill="none" stroke="#7d7d7d" stroke-width="0.6"/>
<path d="M313.00 109.55v2.2M356.40 109.55v2.2M399.80 109.55v2.2M313.00 109.55v1.2M317.34 109.55v1.2M321.68 109.55v1.2M326.02 109.55v1.2M330.36 109.55v1.2M334.70 109.55v1.2M339.04 109.55v1.2M343.38 109.55v1.2M347.72 109.55v1.2M352.06 109.55v1.2M356.40 109.55v1.2M360.74 109.55v1.2M365.08 109.55v1.2M369.42 109.55v1.2M373.76 109.55v1.2M378.10 109.55v1.2M382.44 109.55v1.2M386.78 109.55v1.2M391.12 109.55v1.2M395.46 109.55v1.2M399.80 109.55v1.2M404.14 109.55v1.2M311.1 106.30h-2.2M311.1 84.73h-2.2M311.1 63.16h-2.2M311.1 41.59h-2.2M311.1 106.30h-1.2M311.1 101.99h-1.2M311.1 97.67h-1.2M311.1 93.36h-1.2M311.1 89.04h-1.2M311.1 84.73h-1.2M311.1 80.42h-1.2M311.1 76.10h-1.2M311.1 71.79h-1.2M311.1 67.47h-1.2M311.1 63.16h-1.2M311.1 58.85h-1.2M311.1 54.53h-1.2M311.1 50.22h-1.2M311.1 45.90h-1.2M311.1 41.59h-1.2M311.1 37.28h-1.2M311.1 32.96h-1.2" fill="none" stroke="#6a6a6a" stroke-width="0.5"/>
<text transform="translate(311.70 120.15) scale(1.09 1)" font-size="7.8" text-anchor="middle">−200</text>
<text transform="translate(356.40 120.15) scale(1.09 1)" font-size="7.8" text-anchor="middle">0</text>
<text transform="translate(399.80 120.15) scale(1.09 1)" font-size="7.8" text-anchor="middle">200</text>
<text transform="translate(308.10 109.00) scale(1.09 1)" font-size="7.8" text-anchor="end">100</text>
<text transform="translate(308.10 87.43) scale(1.09 1)" font-size="7.8" text-anchor="end">200</text>
<text transform="translate(308.10 65.86) scale(1.09 1)" font-size="7.8" text-anchor="end">300</text>
<text transform="translate(308.10 44.29) scale(1.09 1)" font-size="7.8" text-anchor="end">400</text>
<text transform="translate(355.50 12.90) scale(1.05 1)" font-size="10.3" text-anchor="middle">Index 5</text>
<text transform="translate(355.50 24.50) scale(1.0 1)" font-size="10.3" text-anchor="middle">20/80</text>
<text transform="translate(355.50 129.75) scale(1.03 1)" font-size="10.3" text-anchor="middle">x<tspan font-size="7.2" dy="1.9">abs</tspan><tspan dy="-1.9"> in µm</tspan></text>
<text transform="translate(289.40 70.88) rotate(-90) scale(1.05 1)" font-size="10.3" text-anchor="middle">y<tspan font-size="7.2" dy="1.9">abs</tspan><tspan dy="-1.9"> in µm</tspan></text>
<g clip-path="url(#c4)"><g filter="url(#cmB)">
<rect x="451.0" y="28.9" width="96.90" height="82.65" fill="#0b0b0b"/>
<rect x="420" y="0" width="160" height="150" fill="url(#g4)"/>
<rect x="480" y="55" width="40" height="30" fill="url(#b4b)"/>
<rect x="480" y="55" width="40" height="30" fill="url(#b4c)"/>
<rect x="477.3" y="52.2" width="14" height="14" fill="url(#i40)"/>
<rect x="478.2" y="74.8" width="14" height="14" fill="url(#i41)"/>
<rect x="498.8" y="45.4" width="14" height="14" fill="url(#i42)"/>
<rect x="501.8" y="78.8" width="14" height="14" fill="url(#i43)"/>
<rect x="474.0" y="62.8" width="14" height="14" fill="url(#i44)"/>
</g></g>
<path d="M453.0 30.9V109.55H545.9" fill="none" stroke="#7d7d7d" stroke-width="0.6"/>
<path d="M456.94 109.55v2.2M498.90 109.55v2.2M540.86 109.55v2.2M456.94 109.55v1.2M461.14 109.55v1.2M465.33 109.55v1.2M469.53 109.55v1.2M473.72 109.55v1.2M477.92 109.55v1.2M482.12 109.55v1.2M486.31 109.55v1.2M490.51 109.55v1.2M494.70 109.55v1.2M498.90 109.55v1.2M503.10 109.55v1.2M507.29 109.55v1.2M511.49 109.55v1.2M515.68 109.55v1.2M519.88 109.55v1.2M524.08 109.55v1.2M528.27 109.55v1.2M532.47 109.55v1.2M536.66 109.55v1.2M540.86 109.55v1.2M545.06 109.55v1.2M453.0 103.15h-2.2M453.0 82.20h-2.2M453.0 61.25h-2.2M453.0 40.30h-2.2M453.0 107.34h-1.2M453.0 103.15h-1.2M453.0 98.96h-1.2M453.0 94.77h-1.2M453.0 90.58h-1.2M453.0 86.39h-1.2M453.0 82.20h-1.2M453.0 78.01h-1.2M453.0 73.82h-1.2M453.0 69.63h-1.2M453.0 65.44h-1.2M453.0 61.25h-1.2M453.0 57.06h-1.2M453.0 52.87h-1.2M453.0 48.68h-1.2M453.0 44.49h-1.2M453.0 40.30h-1.2M453.0 36.11h-1.2M453.0 31.92h-1.2" fill="none" stroke="#6a6a6a" stroke-width="0.5"/>
<text transform="translate(455.64 120.15) scale(1.09 1)" font-size="7.8" text-anchor="middle">−200</text>
<text transform="translate(498.90 120.15) scale(1.09 1)" font-size="7.8" text-anchor="middle">0</text>
<text transform="translate(540.86 120.15) scale(1.09 1)" font-size="7.8" text-anchor="middle">200</text>
<text transform="translate(450.00 105.85) scale(1.09 1)" font-size="7.8" text-anchor="end">100</text>
<text transform="translate(450.00 84.90) scale(1.09 1)" font-size="7.8" text-anchor="end">200</text>
<text transform="translate(450.00 63.95) scale(1.09 1)" font-size="7.8" text-anchor="end">300</text>
<text transform="translate(450.00 43.00) scale(1.09 1)" font-size="7.8" text-anchor="end">400</text>
<text transform="translate(499.50 12.90) scale(1.05 1)" font-size="10.3" text-anchor="middle">Index 6</text>
<text transform="translate(499.50 24.50) scale(1.0 1)" font-size="10.3" text-anchor="middle">10/90</text>
<text transform="translate(501.00 129.75) scale(1.03 1)" font-size="10.3" text-anchor="middle">x<tspan font-size="7.2" dy="1.9">abs</tspan><tspan dy="-1.9"> in µm</tspan></text>
<text transform="translate(430.50 70.22) rotate(-90) scale(1.05 1)" font-size="10.3" text-anchor="middle">y<tspan font-size="7.2" dy="1.9">abs</tspan><tspan dy="-1.9"> in µm</tspan></text>
<path d="M54.70 142.7V233.9M97.80 142.7V233.9M37.5 227.30H128.1M37.5 191.80H128.1M37.5 156.30H128.1" stroke="#d4d4d4" stroke-width="0.6" fill="none"/>
<path d="M83.4 142.7V233.9" stroke="#6e6e6e" stroke-width="0.7" fill="none"/>
<path d="M37.5 227.3H128.1" stroke="#f2b134" stroke-width="0.6" fill="none"/>
<path clip-path="url(#d1)" d="M56.02 226.74L56.77 226.92L57.84 226.84L59.08 226.64L60.37 226.66L61.27 226.62L62.29 226.66L63.33 226.69L64.35 226.45L65.28 226.39L66.04 226.57L67.43 226.24L68.31 225.79L68.87 224.88L69.35 224.09L69.82 222.94L70.08 222.05L70.33 221.43L70.59 220.51L70.84 219.27L71.09 218.20L71.33 217.22L71.49 216.52L71.64 215.48L71.79 214.53L71.94 213.64L72.08 212.55L72.22 211.62L72.37 210.68L72.51 209.69L72.66 208.61L72.79 207.70L72.92 206.78L73.05 205.91L73.18 204.92L73.31 203.88L73.44 203.17L73.57 202.12L73.70 201.19L73.84 200.09L73.98 199.39L74.13 198.38L74.28 197.15L74.44 196.19L74.60 195.28L74.76 194.26L74.92 193.33L75.08 192.22L75.23 191.45L75.37 190.57L75.49 189.72L75.75 188.52L75.94 187.82L76.15 186.96L76.44 185.39L76.56 184.71L76.70 183.76L76.85 182.96L77.00 182.21L77.16 181.13L77.33 180.05L77.50 179.13L77.67 178.14L77.84 177.09L78.01 175.97L78.17 174.99L78.33 174.04L78.49 173.17L78.65 172.13L78.81 171.12L78.97 170.17L79.13 169.06L79.29 168.09L79.45 167.32L79.61 166.45L79.76 165.40L79.92 164.42L80.07 163.46L80.22 162.69L80.40 161.82L80.59 160.75L80.77 159.68L80.96 158.81L81.14 157.67L81.31 156.84L81.48 156.10L81.64 155.15L81.79 154.33L81.92 153.55L82.15 152.33L82.34 151.32L82.49 150.07L82.63 149.48L82.78 148.80L83.44 147.30L84.10 148.77L84.22 149.42L84.33 150.06L84.45 150.90L84.58 151.82L84.75 152.81L84.95 154.29L85.08 154.96L85.23 155.67L85.39 156.64L85.56 157.56L85.74 158.48L85.92 159.47L86.11 160.54L86.30 161.58L86.48 162.60L86.67 163.57L86.84 164.44L87.00 165.42L87.16 166.32L87.31 167.38L87.47 168.40L87.63 169.33L87.79 170.29L87.94 171.25L88.10 172.04L88.26 173.17L88.42 174.08L88.57 174.86L88.73 175.79L88.89 176.74L89.06 177.93L89.24 178.77L89.42 179.71L89.60 180.86L89.77 181.75L89.94 182.64L90.11 183.63L90.26 184.67L90.40 185.47L90.52 186.37L90.62 187.34L90.73 188.29L90.79 189.19L90.82 190.11L90.83 190.81L90.84 191.74L90.85 192.59L90.87 193.39L90.92 194.31L91.00 195.58L91.09 196.30L91.19 197.10L91.30 198.15L91.42 199.17L91.55 199.91L91.69 200.90L91.83 201.94L91.97 203.11L92.11 203.92L92.25 205.04L92.38 205.97L92.51 206.82L92.67 207.75L92.82 209.00L92.97 209.96L93.12 210.86L93.27 211.74L93.42 212.81L93.57 213.66L93.72 214.60L93.88 215.38L94.03 216.30L94.24 217.25L94.45 218.40L94.67 219.63L94.88 220.57L95.09 221.29L95.31 222.26L95.54 222.82L96.09 224.30L96.65 225.12L97.24 225.69L98.00 226.31L99.13 226.51L99.88 226.77L100.76 226.43L101.74 226.54L102.79 226.47L103.86 226.30L104.86 226.20L106.00 226.47L107.18 226.59L108.29 226.59L109.24 226.61L109.91 226.62" stroke="#3a98d8" stroke-width="0.95" fill="none" stroke-linejoin="round"/>
<rect x="37.5" y="142.7" width="90.60" height="91.20" fill="none" stroke="#6a6a6a" stroke-width="0.7"/>
<path d="M54.70 233.9v2.2M97.80 233.9v2.2M41.77 233.9v1.2M46.08 233.9v1.2M50.39 233.9v1.2M54.70 233.9v1.2M59.01 233.9v1.2M63.32 233.9v1.2M67.63 233.9v1.2M71.94 233.9v1.2M76.25 233.9v1.2M80.56 233.9v1.2M84.87 233.9v1.2M89.18 233.9v1.2M93.49 233.9v1.2M97.80 233.9v1.2M102.11 233.9v1.2M106.42 233.9v1.2M110.73 233.9v1.2M115.04 233.9v1.2M119.35 233.9v1.2M123.66 233.9v1.2M127.97 233.9v1.2M37.5 227.30h-2.2M37.5 191.80h-2.2M37.5 156.30h-2.2M37.5 227.30h-1.2M37.5 220.20h-1.2M37.5 213.10h-1.2M37.5 206.00h-1.2M37.5 198.90h-1.2M37.5 191.80h-1.2M37.5 184.70h-1.2M37.5 177.60h-1.2M37.5 170.50h-1.2M37.5 163.40h-1.2M37.5 156.30h-1.2M37.5 149.20h-1.2" fill="none" stroke="#6a6a6a" stroke-width="0.5"/>
<text transform="translate(53.40 244.90) scale(1.09 1)" font-size="7.8" text-anchor="middle">−200</text>
<text transform="translate(97.80 244.90) scale(1.09 1)" font-size="7.8" text-anchor="middle">0</text>
<text transform="translate(34.00 230.00) scale(1.09 1)" font-size="7.8" text-anchor="end">0</text>
<text transform="translate(34.00 194.50) scale(1.09 1)" font-size="7.8" text-anchor="end">1000</text>
<text transform="translate(34.00 159.00) scale(1.09 1)" font-size="7.8" text-anchor="end">2000</text>
<text transform="translate(81.50 254.30) scale(1.03 1)" font-size="10.3" text-anchor="middle">x<tspan font-size="7.2" dy="1.9">abs</tspan><tspan dy="-1.9"> in µm</tspan></text>
<text transform="translate(13.00 188.30) rotate(-90) scale(1.05 1)" font-size="10.3" text-anchor="middle">Intensity in kW/cm<tspan font-size="6.4" dy="-3.6">2</tspan></text>
<path d="M178.50 141.8V233.4M220.60 141.8V233.4M262.50 141.8V233.4M172.1 225.70H268.8M172.1 185.10H268.8M172.1 144.50H268.8" stroke="#d4d4d4" stroke-width="0.6" fill="none"/>
<path d="M220.7 141.8V233.4" stroke="#6e6e6e" stroke-width="0.7" fill="none"/>
<path d="M172.1 225.7H268.8" stroke="#f2b134" stroke-width="0.6" fill="none"/>
<path clip-path="url(#d2)" d="M172.27 225.31L172.81 225.28L173.50 224.93L174.31 224.90L175.23 225.13L176.22 225.05L177.25 224.98L178.31 224.81L179.36 224.87L180.38 224.84L181.35 224.80L182.31 224.62L183.32 224.72L184.36 224.71L185.42 224.83L186.46 224.93L187.48 224.92L188.44 224.76L189.33 224.69L190.12 224.57L190.80 224.41L192.24 224.05L192.94 223.68L193.64 222.81L194.21 222.14L194.77 221.48L195.34 220.42L195.91 219.47L196.48 218.43L197.06 217.42L197.66 216.53L198.25 215.49L198.80 214.73L199.31 214.17L200.32 212.80L201.20 211.98L202.15 212.19L203.09 212.58L204.04 213.47L204.98 214.51L205.93 215.23L206.88 215.42L207.51 214.77L208.14 214.08L208.77 212.64L209.01 211.65L209.25 211.05L209.50 210.15L209.75 209.09L209.99 208.10L210.23 207.04L210.45 206.13L210.66 204.91L210.81 204.15L210.96 203.06L211.10 202.29L211.24 201.32L211.37 200.17L211.49 199.22L211.62 198.36L211.74 197.34L211.86 196.33L211.98 195.36L212.14 194.32L212.31 193.38L212.47 192.14L212.63 191.39L212.78 190.19L212.92 189.53L213.03 188.51L213.12 188.06L213.10 186.95L213.12 185.39L213.18 184.75L213.26 184.05L213.35 183.18L213.46 182.16L213.57 181.13L213.70 180.21L213.82 179.30L213.95 178.12L214.08 176.86L214.20 176.09L214.33 175.06L214.44 174.19L214.56 172.94L214.68 172.15L214.80 170.92L214.91 170.16L215.03 169.06L215.15 168.09L215.27 167.38L215.39 166.17L215.51 165.41L215.64 164.64L215.76 163.55L215.92 162.49L216.09 161.70L216.25 160.53L216.42 159.65L216.59 158.44L216.77 157.64L216.94 156.67L217.11 156.00L217.28 154.98L217.53 154.14L217.78 152.73L218.03 151.98L218.29 150.82L218.54 150.08L218.79 149.57L219.29 148.14L219.78 147.34L220.30 147.26L220.86 147.50L221.44 148.27L222.00 150.01L222.20 150.37L222.40 151.09L222.59 152.04L222.78 153.04L222.97 154.05L223.16 154.82L223.34 155.92L223.52 156.85L223.66 157.85L223.79 158.83L223.93 159.72L224.06 160.69L224.19 161.58L224.32 162.58L224.45 163.50L224.58 164.42L224.71 165.34L224.84 166.53L224.95 167.29L225.06 168.14L225.18 169.20L225.29 170.32L225.40 171.03L225.51 172.18L225.63 173.09L225.74 174.11L225.85 174.95L225.96 176.18L226.06 176.85L226.16 177.86L226.29 178.85L226.42 179.77L226.55 181.04L226.69 181.94L226.81 182.94L226.94 183.92L227.05 184.89L227.15 185.72L227.23 186.67L227.30 187.28L227.31 188.94L227.30 189.94L227.39 190.66L227.51 191.13L227.65 192.05L227.82 192.94L228.02 194.18L228.25 195.50L228.37 196.32L228.51 197.14L228.65 197.90L228.81 198.94L228.97 200.00L229.13 200.86L229.30 201.91L229.47 203.08L229.64 203.98L229.81 205.17L229.98 205.89L230.14 206.66L230.37 207.82L230.60 208.91L230.83 209.92L231.06 210.97L231.29 211.82L231.53 212.57L231.77 213.40L232.03 213.88L232.73 215.41L233.48 216.16L234.30 216.34L235.20 215.91L236.17 215.15L237.13 214.40L238.10 213.47L239.07 212.87L239.97 212.48L241.13 212.42L242.24 213.27L242.71 214.24L243.19 215.02L243.68 216.12L244.18 217.33L244.70 218.19L245.24 218.97L245.80 220.13L246.38 220.78L246.96 221.45L247.53 222.38L248.41 223.11L249.29 223.90L250.37 224.51L251.18 224.48L252.08 224.11L253.05 224.05L254.06 223.85L255.10 223.82L255.96 223.80L256.84 224.10L257.73 224.12L258.68 224.40L259.68 224.61L260.77 224.92L261.71 224.64L262.78 224.89L263.93 224.66L265.10 224.76L266.22 224.65L267.23 224.63L268.09 224.69L268.71 224.54" stroke="#3a98d8" stroke-width="0.95" fill="none" stroke-linejoin="round"/>
<rect x="172.1" y="141.8" width="96.70" height="91.60" fill="none" stroke="#6a6a6a" stroke-width="0.7"/>
<path d="M178.50 233.4v2.2M220.60 233.4v2.2M262.50 233.4v2.2M174.45 233.4v1.2M178.65 233.4v1.2M182.84 233.4v1.2M187.04 233.4v1.2M191.23 233.4v1.2M195.43 233.4v1.2M199.62 233.4v1.2M203.82 233.4v1.2M208.01 233.4v1.2M212.21 233.4v1.2M216.41 233.4v1.2M220.60 233.4v1.2M224.79 233.4v1.2M228.99 233.4v1.2M233.19 233.4v1.2M237.38 233.4v1.2M241.57 233.4v1.2M245.77 233.4v1.2M249.97 233.4v1.2M254.16 233.4v1.2M258.36 233.4v1.2M262.55 233.4v1.2M266.75 233.4v1.2M172.1 225.70h-2.2M172.1 185.10h-2.2M172.1 144.50h-2.2M172.1 225.70h-1.2M172.1 217.58h-1.2M172.1 209.46h-1.2M172.1 201.34h-1.2M172.1 193.22h-1.2M172.1 185.10h-1.2M172.1 176.98h-1.2M172.1 168.86h-1.2M172.1 160.74h-1.2M172.1 152.62h-1.2M172.1 144.50h-1.2" fill="none" stroke="#6a6a6a" stroke-width="0.5"/>
<text transform="translate(177.20 244.40) scale(1.09 1)" font-size="7.8" text-anchor="middle">−200</text>
<text transform="translate(220.60 244.40) scale(1.09 1)" font-size="7.8" text-anchor="middle">0</text>
<text transform="translate(262.50 244.40) scale(1.09 1)" font-size="7.8" text-anchor="middle">200</text>
<text transform="translate(168.10 228.40) scale(1.09 1)" font-size="7.8" text-anchor="end">0</text>
<text transform="translate(168.10 187.80) scale(1.09 1)" font-size="7.8" text-anchor="end">500</text>
<text transform="translate(168.10 147.20) scale(1.09 1)" font-size="7.8" text-anchor="end">1000</text>
<text transform="translate(219.50 253.80) scale(1.03 1)" font-size="10.3" text-anchor="middle">x<tspan font-size="7.2" dy="1.9">abs</tspan><tspan dy="-1.9"> in µm</tspan></text>
<text transform="translate(150.30 187.60) rotate(-90) scale(1.05 1)" font-size="10.3" text-anchor="middle">Intensity in kW/cm<tspan font-size="6.4" dy="-3.6">2</tspan></text>
<path d="M313.60 142.4V233.9M356.00 142.4V233.9M398.30 142.4V233.9M307.9 223.30H407.4M307.9 191.35H407.4M307.9 159.40H407.4" stroke="#d4d4d4" stroke-width="0.6" fill="none"/>
<path d="M357.4 142.4V233.9" stroke="#6e6e6e" stroke-width="0.7" fill="none"/>
<path d="M307.9 223.3H407.4" stroke="#f2b134" stroke-width="0.6" fill="none"/>
<path clip-path="url(#d3)" d="M307.89 221.72L308.63 222.09L309.68 222.12L310.73 222.39L311.67 222.40L312.62 221.85L313.56 221.54L314.51 221.70L315.46 220.56L316.40 219.83L317.12 219.88L317.85 218.86L318.57 218.56L319.24 217.75L320.03 217.25L320.76 216.31L321.51 216.37L322.72 216.55L323.97 216.65L324.81 217.44L325.65 218.13L326.42 217.80L326.95 217.83L327.44 216.78L327.90 215.41L328.31 213.99L328.57 213.87L328.80 212.73L329.01 212.06L329.22 211.24L329.42 210.05L329.64 209.03L329.78 207.84L329.92 207.37L330.07 206.26L330.21 205.79L330.36 204.84L330.50 203.26L330.63 202.29L330.76 201.30L330.87 200.79L330.96 199.19L331.01 198.55L331.05 197.43L331.08 196.68L331.11 195.63L331.12 194.61L331.14 193.79L331.15 192.76L331.16 191.98L331.17 190.78L331.18 189.97L331.20 188.92L331.21 188.08L331.24 186.92L331.26 185.67L331.30 185.44L331.34 184.81L331.46 183.43L331.59 182.15L331.73 181.45L331.90 180.33L332.07 180.08L332.27 179.00L332.48 177.65L332.60 176.68L332.74 176.44L332.89 175.61L333.04 173.90L333.19 173.45L333.35 172.10L333.51 170.85L333.68 169.95L333.85 169.33L334.02 168.47L334.19 166.92L334.37 166.57L334.64 164.96L334.92 164.38L335.22 162.99L335.52 162.43L335.82 161.62L336.11 160.48L336.39 160.28L336.64 159.33L337.18 158.98L337.64 160.27L338.15 161.37L338.34 162.17L338.54 163.13L338.75 164.18L338.96 164.77L339.18 165.70L339.39 167.41L339.61 168.03L339.83 169.60L340.04 170.57L340.23 171.09L340.42 172.13L340.61 173.18L340.80 174.30L340.98 175.27L341.17 176.25L341.36 177.26L341.55 178.44L341.74 178.94L341.93 179.66L342.25 181.10L342.56 181.87L342.88 182.96L343.19 184.35L343.51 184.57L343.82 184.86L344.20 184.32L344.58 184.14L344.96 183.42L345.33 181.77L345.71 180.75L345.86 180.09L346.00 178.87L346.15 178.50L346.29 177.48L346.44 176.71L346.59 175.47L346.73 174.73L346.88 173.72L347.02 172.10L347.17 171.08L347.31 170.53L347.46 169.74L347.60 168.17L347.74 167.40L347.87 166.55L348.00 165.35L348.13 164.39L348.26 163.34L348.38 162.38L348.51 161.55L348.64 160.32L348.78 159.41L348.91 158.77L349.05 157.25L349.19 156.81L349.34 156.10L349.49 154.98L349.75 153.73L350.02 153.04L350.31 151.47L350.61 150.37L350.91 149.61L351.20 148.97L351.47 147.78L351.73 147.41L351.95 147.05L352.46 147.70L352.84 148.87L353.28 150.69L353.70 150.97L354.16 151.96L354.66 153.03L355.17 153.92L355.91 154.49L356.69 155.08L357.44 155.20L357.95 155.03L358.43 153.83L358.89 153.30L359.33 152.56L360.84 151.09L362.16 150.79L362.54 151.64L362.95 152.07L363.39 152.97L363.83 153.64L364.25 154.83L364.41 155.65L364.57 156.82L364.73 157.23L364.89 158.19L365.05 159.18L365.20 160.17L365.36 161.18L365.51 162.62L365.67 163.06L365.82 164.00L365.98 165.80L366.14 166.78L366.27 167.77L366.41 168.26L366.54 169.65L366.68 170.63L366.81 171.07L366.95 172.51L367.08 173.60L367.22 174.47L367.35 175.34L367.49 176.12L367.62 177.09L367.76 177.88L367.89 178.59L368.03 179.78L368.26 180.86L368.50 182.58L368.74 183.22L368.97 185.06L369.21 185.88L369.45 186.86L369.68 187.37L369.92 187.60L370.19 187.20L370.46 186.25L370.73 186.03L371.00 184.51L371.27 183.35L371.54 182.25L371.81 180.68L371.94 179.85L372.06 179.45L372.19 178.30L372.31 177.14L372.44 176.08L372.57 175.55L372.69 174.19L372.82 173.38L372.94 171.98L373.07 170.82L373.20 170.08L373.32 169.32L373.45 167.88L373.57 167.50L373.70 166.81L373.91 165.49L374.12 164.35L374.33 162.61L374.54 162.10L374.75 161.34L374.96 159.81L375.17 159.18L375.38 158.45L375.59 157.99L376.24 156.29L376.88 155.35L377.48 155.35L377.88 155.03L378.25 155.78L378.61 156.98L379.00 158.61L379.13 159.25L379.27 160.75L379.42 161.52L379.56 161.84L379.71 163.15L379.86 164.02L380.01 165.07L380.15 166.15L380.29 167.43L380.43 168.40L380.57 169.21L380.70 170.01L380.83 171.10L380.97 171.91L381.10 173.22L381.23 174.30L381.36 174.97L381.48 175.67L381.60 176.68L381.71 177.77L381.82 178.88L381.92 179.95L382.02 180.56L382.11 181.85L382.20 182.68L382.28 183.52L382.35 184.47L382.42 185.56L382.49 186.69L382.55 187.41L382.61 188.53L382.67 189.20L382.73 189.81L382.78 190.76L382.86 192.07L382.91 192.34L382.95 193.28L383.03 194.11L383.16 195.76L383.23 196.53L383.32 196.92L383.42 198.26L383.53 199.16L383.64 199.76L383.76 200.98L383.88 201.77L384.00 203.38L384.13 204.27L384.25 205.42L384.37 206.23L384.48 206.94L384.67 208.21L384.85 209.19L385.04 209.83L385.22 211.14L385.41 211.52L385.60 212.41L385.80 213.64L386.28 214.53L386.78 215.66L387.32 216.31L388.21 216.83L389.21 215.62L390.31 214.79L391.48 215.02L392.28 214.72L393.11 215.87L393.93 216.40L394.76 217.24L395.59 218.13L396.39 218.59L397.14 219.42L397.87 219.43L398.66 220.63L399.57 221.14L400.53 222.02L401.50 221.99L402.43 222.58L403.36 222.56L404.34 221.58L405.50 221.37L406.70 221.04L407.55 220.87" stroke="#3a98d8" stroke-width="0.95" fill="none" stroke-linejoin="round"/>
<rect x="307.9" y="142.4" width="99.50" height="91.50" fill="none" stroke="#6a6a6a" stroke-width="0.7"/>
<path d="M313.60 233.9v2.2M356.00 233.9v2.2M398.30 233.9v2.2M309.42 233.9v1.2M313.65 233.9v1.2M317.88 233.9v1.2M322.12 233.9v1.2M326.36 233.9v1.2M330.59 233.9v1.2M334.82 233.9v1.2M339.06 233.9v1.2M343.30 233.9v1.2M347.53 233.9v1.2M351.76 233.9v1.2M356.00 233.9v1.2M360.24 233.9v1.2M364.47 233.9v1.2M368.70 233.9v1.2M372.94 233.9v1.2M377.18 233.9v1.2M381.41 233.9v1.2M385.64 233.9v1.2M389.88 233.9v1.2M394.12 233.9v1.2M398.35 233.9v1.2M402.58 233.9v1.2M406.82 233.9v1.2M307.9 223.30h-2.2M307.9 191.35h-2.2M307.9 159.40h-2.2M307.9 229.69h-1.2M307.9 223.30h-1.2M307.9 216.91h-1.2M307.9 210.52h-1.2M307.9 204.13h-1.2M307.9 197.74h-1.2M307.9 191.35h-1.2M307.9 184.96h-1.2M307.9 178.57h-1.2M307.9 172.18h-1.2M307.9 165.79h-1.2M307.9 159.40h-1.2M307.9 153.01h-1.2M307.9 146.62h-1.2" fill="none" stroke="#6a6a6a" stroke-width="0.5"/>
<text transform="translate(312.30 244.90) scale(1.09 1)" font-size="7.8" text-anchor="middle">−200</text>
<text transform="translate(356.00 244.90) scale(1.09 1)" font-size="7.8" text-anchor="middle">0</text>
<text transform="translate(398.30 244.90) scale(1.09 1)" font-size="7.8" text-anchor="middle">200</text>
<text transform="translate(304.80 226.00) scale(1.09 1)" font-size="7.8" text-anchor="end">0</text>
<text transform="translate(304.80 194.05) scale(1.09 1)" font-size="7.8" text-anchor="end">100</text>
<text transform="translate(304.80 162.10) scale(1.09 1)" font-size="7.8" text-anchor="end">200</text>
<text transform="translate(355.50 254.30) scale(1.03 1)" font-size="10.3" text-anchor="middle">x<tspan font-size="7.2" dy="1.9">abs</tspan><tspan dy="-1.9"> in µm</tspan></text>
<text transform="translate(288.60 188.15) rotate(-90) scale(1.05 1)" font-size="10.3" text-anchor="middle">Intensity in kW/cm<tspan font-size="6.4" dy="-3.6">2</tspan></text>
<path d="M459.60 142.8V232.8M498.20 142.8V232.8M536.70 142.8V232.8M445.6 223.30H544.3M445.6 192.80H544.3M445.6 162.30H544.3" stroke="#d4d4d4" stroke-width="0.6" fill="none"/>
<path d="M500.3 142.8V232.8" stroke="#6e6e6e" stroke-width="0.7" fill="none"/>
<path d="M445.6 223.3H544.3" stroke="#f2b134" stroke-width="0.6" fill="none"/>
<path clip-path="url(#d4)" d="M450.05 222.29L450.92 222.24L452.17 222.55L453.46 222.41L454.40 222.36L455.38 222.64L456.35 223.05L457.24 222.93L458.25 222.88L459.16 222.39L460.07 222.34L460.78 221.64L461.49 220.89L462.20 220.09L462.91 219.43L463.63 219.22L464.35 218.29L465.06 217.49L465.75 216.88L467.01 215.78L468.21 215.73L469.38 216.39L470.48 216.82L471.47 216.72L472.37 215.62L472.60 214.35L472.83 214.03L473.05 213.23L473.26 212.14L473.47 210.83L473.68 209.91L473.88 208.36L474.00 208.28L474.11 207.43L474.22 206.35L474.33 205.30L474.44 204.90L474.55 203.71L474.66 203.00L474.77 201.98L474.88 200.68L474.98 199.53L475.09 198.57L475.20 197.29L475.28 196.27L475.35 195.54L475.42 195.05L475.49 193.51L475.57 192.56L475.64 192.05L475.71 190.78L475.78 189.98L475.85 188.92L475.93 187.81L476.00 187.34L476.07 185.71L476.15 184.92L476.22 183.81L476.29 183.24L476.37 182.09L476.45 181.32L476.53 180.86L476.66 179.33L476.78 178.43L476.92 177.69L477.05 176.09L477.18 175.15L477.32 174.41L477.45 173.99L477.59 173.02L477.74 171.85L477.89 171.04L478.04 170.00L478.20 169.25L478.37 167.90L478.54 167.37L478.72 166.47L478.89 165.47L479.08 164.26L479.25 163.45L479.43 161.76L479.60 161.12L479.77 160.89L479.93 160.08L480.46 158.03L480.95 157.55L481.44 157.12L481.82 157.58L482.19 157.86L482.56 158.92L482.96 160.76L483.09 161.19L483.23 162.16L483.36 163.48L483.50 163.89L483.64 164.60L483.78 165.64L483.93 166.77L484.07 168.31L484.21 169.02L484.36 170.00L484.51 170.86L484.66 172.53L484.81 173.04L484.98 173.83L485.15 174.68L485.32 175.66L485.50 176.72L485.67 178.10L485.85 178.64L486.01 179.51L486.17 180.81L486.31 181.53L486.44 183.03L486.55 183.19L486.66 184.55L486.74 185.79L486.81 186.53L486.86 188.01L486.90 188.59L486.94 189.35L486.97 190.37L487.01 190.89L487.06 191.92L487.12 192.42L487.46 194.92L487.87 195.34L488.17 194.71L488.50 193.37L489.01 191.85L489.21 191.13L489.45 190.24L489.71 189.28L489.99 188.74L490.28 187.06L490.58 185.89L490.87 185.53L491.15 184.24L491.41 183.69L491.66 182.47L492.18 181.34L492.65 179.95L493.09 179.28L493.55 178.96L494.02 179.07L494.49 179.58L494.96 180.89L495.44 182.85L495.65 183.61L495.87 184.50L496.10 184.98L496.32 186.25L496.54 187.39L496.75 188.28L496.96 189.37L497.15 190.01L497.33 190.85L497.66 192.20L497.93 192.89L498.18 194.21L498.46 194.87L499.79 195.11L500.12 195.34L500.46 194.56L500.79 193.24L501.11 191.31L501.23 191.28L501.34 189.84L501.44 189.59L501.54 188.38L501.64 186.88L501.75 185.94L501.86 185.31L501.97 184.29L502.10 183.54L502.25 182.89L502.52 181.12L502.84 179.83L503.18 179.54L503.52 177.90L503.85 177.81L504.14 176.57L505.46 176.18L505.90 176.70L506.38 177.65L506.88 178.50L507.35 180.02L507.61 180.27L507.87 181.52L508.12 182.18L508.37 183.62L508.61 184.53L508.84 185.31L509.05 186.35L509.22 186.90L509.37 187.97L509.51 189.54L509.64 190.57L509.77 191.90L509.90 192.58L510.04 192.88L510.19 193.45L510.52 193.75L510.88 192.75L511.23 191.10L511.51 190.43L511.62 189.70L511.69 188.35L511.74 187.91L511.78 186.89L511.84 186.20L511.93 184.67L512.08 183.28L512.17 182.74L512.28 182.30L512.40 180.73L512.52 179.83L512.66 179.27L512.80 178.49L512.94 177.18L513.09 176.09L513.24 175.40L513.39 174.31L513.54 172.74L513.69 172.41L513.83 170.92L513.97 170.10L514.13 169.49L514.28 168.12L514.44 167.37L514.60 165.82L514.76 165.36L514.92 163.79L515.07 162.79L515.23 162.13L515.39 161.11L515.55 160.43L515.70 159.94L515.86 159.08L516.24 157.01L516.62 155.98L517.00 155.18L517.37 154.47L517.75 154.36L518.23 154.36L518.72 154.79L519.20 156.15L519.64 158.24L519.80 158.54L519.94 159.65L520.09 160.69L520.23 161.32L520.37 162.33L520.50 163.29L520.64 164.09L520.77 165.61L520.90 166.30L521.03 167.69L521.16 168.21L521.28 169.57L521.40 170.42L521.52 171.21L521.65 172.01L521.77 172.71L521.89 174.16L522.00 174.78L522.12 175.98L522.22 176.52L522.32 177.44L522.40 178.46L522.48 179.96L522.54 180.35L522.58 181.83L522.61 182.30L522.63 183.37L522.64 184.09L522.65 185.22L522.66 185.71L522.67 186.87L522.69 188.23L522.71 188.56L522.75 189.88L522.79 190.57L522.86 191.51L522.93 192.21L523.02 193.15L523.11 194.87L523.21 195.76L523.32 196.74L523.44 197.75L523.56 198.87L523.68 199.23L523.80 200.55L523.92 201.43L524.04 202.42L524.15 203.61L524.27 204.32L524.37 205.29L524.52 205.78L524.67 207.33L524.82 208.41L524.96 209.47L525.10 210.32L525.25 211.37L525.39 211.78L525.54 213.05L525.69 213.35L526.05 214.90L526.42 216.24L526.80 216.89L527.21 217.05L528.11 216.60L529.10 215.74L530.20 215.55L531.37 215.71L532.62 215.89L533.83 216.18L534.50 217.02L535.11 218.40L535.72 218.92L536.60 220.09L537.61 220.60L538.45 221.20L539.39 221.85L540.44 222.09L541.41 221.82L542.51 221.22L543.53 221.26L544.23 220.71" stroke="#3a98d8" stroke-width="0.95" fill="none" stroke-linejoin="round"/>
<rect x="445.6" y="142.8" width="98.70" height="90.00" fill="none" stroke="#6a6a6a" stroke-width="0.7"/>
<path d="M459.60 232.8v2.2M498.20 232.8v2.2M536.70 232.8v2.2M448.08 232.8v1.2M451.94 232.8v1.2M455.79 232.8v1.2M459.65 232.8v1.2M463.50 232.8v1.2M467.36 232.8v1.2M471.21 232.8v1.2M475.07 232.8v1.2M478.92 232.8v1.2M482.78 232.8v1.2M486.63 232.8v1.2M490.49 232.8v1.2M494.34 232.8v1.2M498.20 232.8v1.2M502.06 232.8v1.2M505.91 232.8v1.2M509.76 232.8v1.2M513.62 232.8v1.2M517.48 232.8v1.2M521.33 232.8v1.2M525.18 232.8v1.2M529.04 232.8v1.2M532.89 232.8v1.2M536.75 232.8v1.2M540.61 232.8v1.2M445.6 223.30h-2.2M445.6 192.80h-2.2M445.6 162.30h-2.2M445.6 229.40h-1.2M445.6 223.30h-1.2M445.6 217.20h-1.2M445.6 211.10h-1.2M445.6 205.00h-1.2M445.6 198.90h-1.2M445.6 192.80h-1.2M445.6 186.70h-1.2M445.6 180.60h-1.2M445.6 174.50h-1.2M445.6 168.40h-1.2M445.6 162.30h-1.2M445.6 156.20h-1.2M445.6 150.10h-1.2M445.6 144.00h-1.2" fill="none" stroke="#6a6a6a" stroke-width="0.5"/>
<text transform="translate(458.30 243.80) scale(1.09 1)" font-size="7.8" text-anchor="middle">−200</text>
<text transform="translate(498.20 243.80) scale(1.09 1)" font-size="7.8" text-anchor="middle">0</text>
<text transform="translate(536.70 243.80) scale(1.09 1)" font-size="7.8" text-anchor="middle">200</text>
<text transform="translate(443.70 226.00) scale(1.09 1)" font-size="7.8" text-anchor="end">0</text>
<text transform="translate(443.70 195.50) scale(1.09 1)" font-size="7.8" text-anchor="end">100</text>
<text transform="translate(443.70 165.00) scale(1.09 1)" font-size="7.8" text-anchor="end">200</text>
<text transform="translate(497.50 253.20) scale(1.03 1)" font-size="10.3" text-anchor="middle">x<tspan font-size="7.2" dy="1.9">abs</tspan><tspan dy="-1.9"> in µm</tspan></text>
<text transform="translate(427.00 187.80) rotate(-90) scale(1.05 1)" font-size="10.3" text-anchor="middle">Intensity in kW/cm<tspan font-size="6.4" dy="-3.6">2</tspan></text>
</svg>
</body></html>
